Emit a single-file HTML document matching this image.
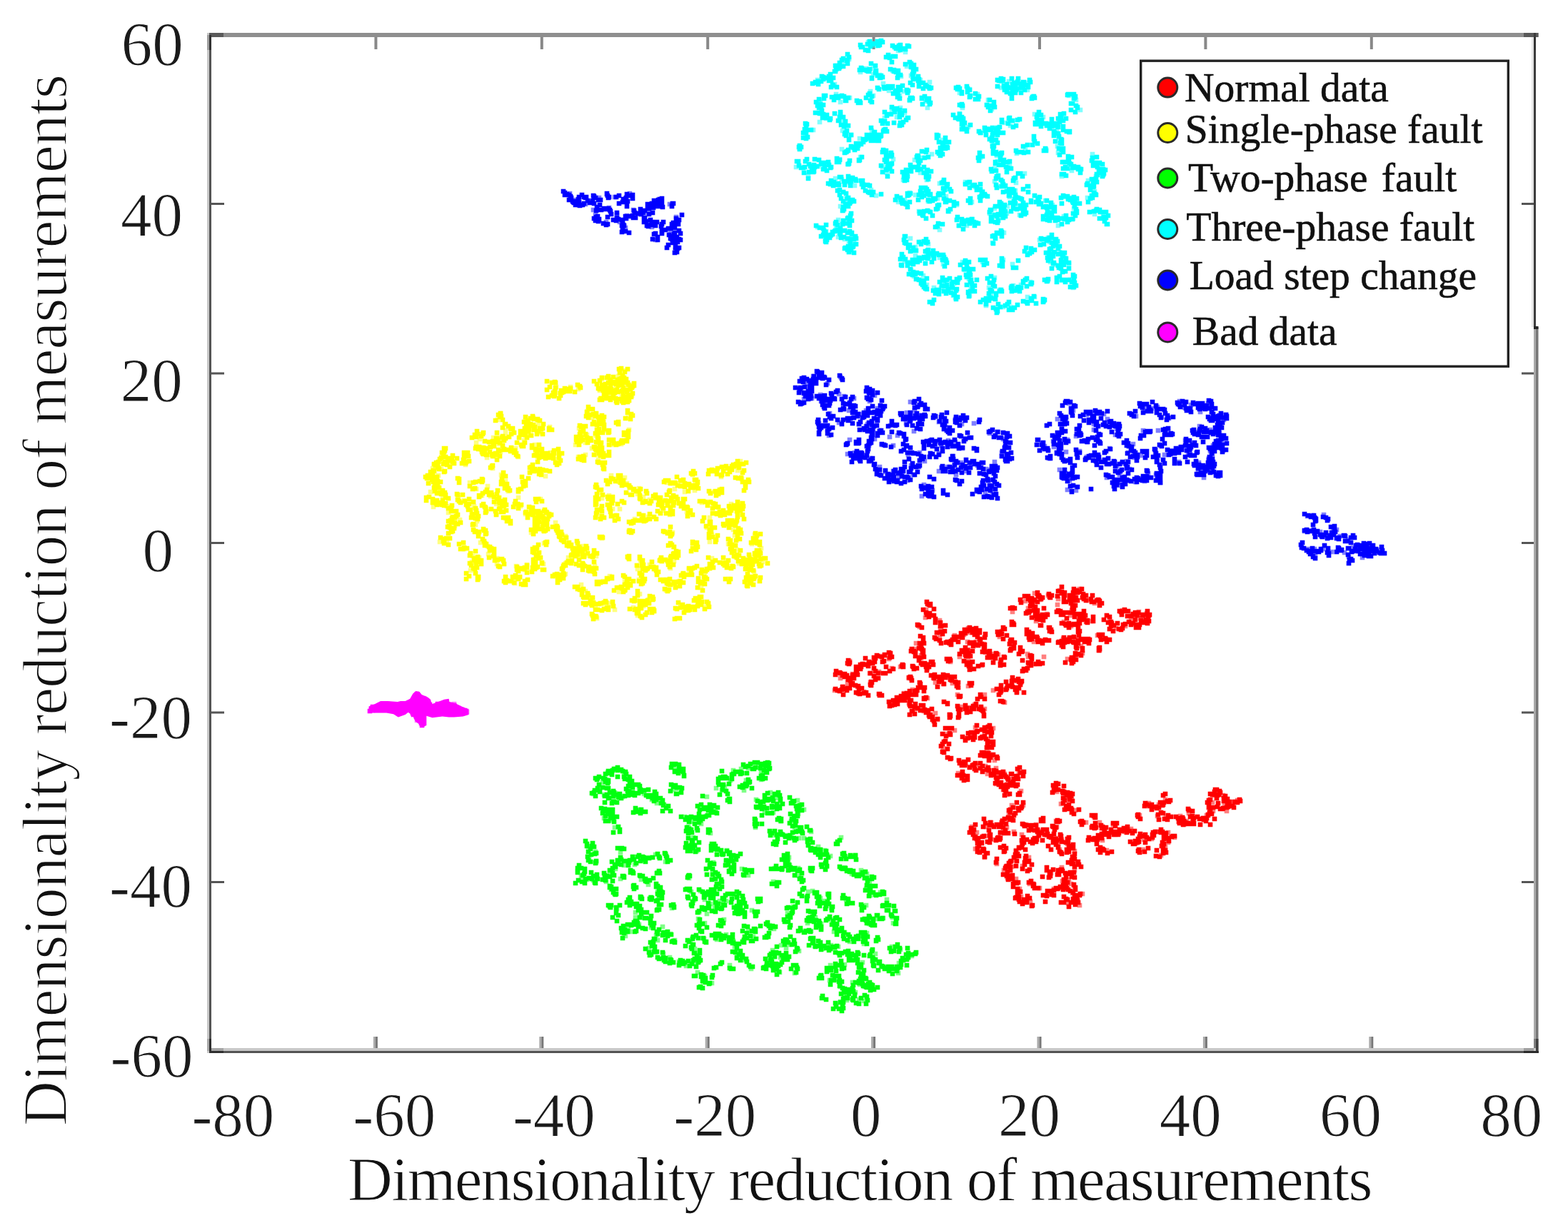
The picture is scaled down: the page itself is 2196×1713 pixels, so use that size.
<!DOCTYPE html>
<html><head><meta charset="utf-8"><title>t-SNE scatter</title>
<style>
html,body{margin:0;padding:0;background:#fff;width:2196px;height:1713px;overflow:hidden}
svg{display:block}
.t{font-family:"Liberation Serif","Times New Roman",serif;font-size:87px;fill:#1a1a1a;stroke:#fff;stroke-width:1.0px}
.al{font-family:"Liberation Serif","Times New Roman",serif;font-size:87px;fill:#111;stroke:#fff;stroke-width:1.0px}
.al2{font-family:"Liberation Serif","Times New Roman",serif;font-size:88px;fill:#111;stroke:#fff;stroke-width:1.7px}
.lg{font-family:"Liberation Serif","Times New Roman",serif;font-size:57.5px;fill:#111;stroke:#111;stroke-width:0.6px}
</style></head><body>
<svg width="2196" height="1713" viewBox="0 0 2196 1713">
<rect width="2196" height="1713" fill="#fff"/>
<rect x="290" y="46" width="3" height="1429" fill="#c8c8c8"/>
<rect x="293" y="46" width="3" height="1429" fill="#555"/>
<rect x="293" y="1468" width="1858" height="4" fill="#c8c8c8"/>
<rect x="293" y="1472" width="1862" height="3" fill="#535353"/>
<rect x="293" y="46" width="1862" height="6" fill="#8e8e8e"/>
<rect x="293" y="46" width="20" height="6" fill="#5a5a5a"/>
<rect x="2134" y="46" width="20" height="6" fill="#5a5a5a"/>
<rect x="2145" y="52" width="3" height="406" fill="#e5e5e5"/>
<rect x="2148" y="46" width="3" height="412" fill="#3c3c3c"/>
<rect x="2151" y="458" width="3.5" height="1017" fill="#777"/>
<rect x="2148" y="458" width="3" height="1010" fill="#aaa"/>
<rect x="2148" y="457" width="6.5" height="4" fill="#252525"/>
<rect x="293" y="1455" width="3" height="20" fill="#303030"/>
<rect x="290" y="1455" width="3" height="17" fill="#aaa"/>
<rect x="296" y="1468" width="17" height="4" fill="#a5a5a5"/>
<rect x="296" y="1472" width="17" height="3" fill="#2e2e2e"/>
<rect x="2134" y="1468" width="14" height="4" fill="#a0a0a0"/>
<rect x="2134" y="1472" width="21" height="3" fill="#2a2a2a"/>
<rect x="2148" y="1455" width="3" height="13" fill="#808080"/>
<rect x="2151" y="1455" width="3.5" height="17" fill="#404040"/>
<rect x="293" y="49" width="3" height="21" fill="#333"/>
<rect x="290" y="49" width="3" height="21" fill="#a0a0a0"/>
<rect x="2148" y="52" width="3" height="18" fill="#333"/>
<rect x="522.9" y="1452" width="3" height="16" fill="#aaa"/>
<rect x="525.9" y="1452" width="3" height="16" fill="#777"/>
<rect x="524.4" y="52" width="4" height="17" fill="#888"/>
<rect x="755.3" y="1452" width="3" height="16" fill="#aaa"/>
<rect x="758.3" y="1452" width="3" height="16" fill="#777"/>
<rect x="756.8" y="52" width="4" height="17" fill="#888"/>
<rect x="987.7" y="1452" width="3" height="16" fill="#aaa"/>
<rect x="990.7" y="1452" width="3" height="16" fill="#777"/>
<rect x="989.2" y="52" width="4" height="17" fill="#888"/>
<rect x="1220.1" y="1452" width="3" height="16" fill="#aaa"/>
<rect x="1223.1" y="1452" width="3" height="16" fill="#777"/>
<rect x="1221.6" y="52" width="4" height="17" fill="#888"/>
<rect x="1452.5" y="1452" width="3" height="16" fill="#aaa"/>
<rect x="1455.5" y="1452" width="3" height="16" fill="#777"/>
<rect x="1454.0" y="52" width="4" height="17" fill="#888"/>
<rect x="1684.9" y="1452" width="3" height="16" fill="#aaa"/>
<rect x="1687.9" y="1452" width="3" height="16" fill="#777"/>
<rect x="1686.4" y="52" width="4" height="17" fill="#888"/>
<rect x="1917.3" y="1452" width="3" height="16" fill="#aaa"/>
<rect x="1920.3" y="1452" width="3" height="16" fill="#777"/>
<rect x="1918.8" y="52" width="4" height="17" fill="#888"/>
<rect x="296" y="284.0" width="18" height="3" fill="#555"/>
<rect x="2131" y="284.0" width="17" height="3" fill="#555"/>
<rect x="296" y="521.5" width="18" height="3" fill="#555"/>
<rect x="2131" y="521.5" width="17" height="3" fill="#555"/>
<rect x="296" y="759.0" width="18" height="3" fill="#555"/>
<rect x="2131" y="759.0" width="17" height="3" fill="#555"/>
<rect x="296" y="996.5" width="18" height="3" fill="#555"/>
<rect x="2131" y="996.5" width="17" height="3" fill="#555"/>
<rect x="296" y="1234.0" width="18" height="3" fill="#555"/>
<rect x="2131" y="1234.0" width="17" height="3" fill="#555"/>

<path d="M1216 59h0M1226 64h0M1231 60h0M1258 71h0M1268 73h0M1248 79h0M1270 93h0M1279 94h0M1276 106h0M1189 83h0M1180 89h0M1172 92h0M1205 101h0M1213 96h0M1223 96h0M1223 104h0M1232 105h0M1250 99h0M1262 107h0M1145 112h0M1158 110h0M1169 118h0M1278 108h0M1289 112h0M1302 115h0M1237 117h0M1245 127h0M1254 128h0M1266 128h0M1260 134h0M1274 141h0M1296 142h0M1299 151h0M1149 140h0M1150 151h0M1171 132h0M1177 143h0M1190 137h0M1219 128h0M1223 134h0M1249 154h0M1261 151h0M1267 158h0M1256 164h0M1239 165h0M1148 171h0M1157 166h0M1177 160h0M1179 170h0M1180 183h0M1192 189h0M1139 182h0M1128 187h0M1120 208h0M1221 183h0M1229 189h0M1230 197h0M1216 193h0M1204 194h0M1199 207h0M1192 207h0M1179 209h0M1115 234h0M1125 235h0M1138 232h0M1146 233h0M1157 230h0M1155 234h0M1132 245h0M1176 223h0M1187 230h0M1205 220h0M1246 215h0M1251 223h0M1247 234h0M1242 242h0M1236 234h0M1170 250h0M1179 251h0M1190 256h0M1197 260h0M1209 258h0M1220 266h0M1227 274h0M1181 269h0M1187 282h0M1177 289h0M1181 295h0M1189 309h0M1145 318h0M1157 324h0M1156 335h0M1159 332h0M1174 332h0M1171 319h0M1174 308h0M1183 335h0M1193 334h0M1189 338h0M1189 353h0M1190 351h0M1197 342h0M1319 196h0M1326 204h0M1317 209h0M1305 216h0M1292 221h0M1281 224h0M1278 234h0M1269 241h0M1265 252h0M1289 242h0M1298 252h0M1274 270h0M1258 283h0M1267 280h0M1282 273h0M1297 270h0M1300 269h0M1300 282h0M1313 278h0M1325 275h0M1316 257h0M1322 261h0M1287 296h0M1301 296h0M1314 289h0M1329 296h0M1340 287h0M1316 322h0M1343 316h0M1354 316h0M1362 307h0M1352 255h0M1366 262h0M1376 268h0M1376 273h0M1361 283h0M1344 130h0M1358 125h0M1369 132h0M1348 151h0M1384 140h0M1389 153h0M1402 114h0M1413 114h0M1425 114h0M1436 116h0M1439 126h0M1428 124h0M1415 125h0M1402 123h0M1412 127h0M1447 135h0M1497 134h0M1507 140h0M1513 154h0M1344 159h0M1349 168h0M1356 178h0M1374 186h0M1383 180h0M1395 181h0M1398 180h0M1393 188h0M1390 201h0M1407 172h0M1415 176h0M1449 160h0M1461 164h0M1465 173h0M1471 173h0M1482 174h0M1487 162h0M1450 172h0M1480 182h0M1483 193h0M1481 205h0M1482 214h0M1497 185h0M1465 209h0M1424 215h0M1436 209h0M1373 221h0M1391 213h0M1396 218h0M1397 226h0M1393 236h0M1414 232h0M1490 227h0M1501 239h0M1512 236h0M1487 247h0M1530 216h0M1535 228h0M1540 238h0M1544 240h0M1535 247h0M1524 253h0M1435 243h0M1393 254h0M1400 261h0M1411 268h0M1422 267h0M1414 276h0M1422 287h0M1423 256h0M1386 299h0M1393 292h0M1407 289h0M1411 289h0M1410 299h0M1400 305h0M1389 303h0M1433 285h0M1435 291h0M1428 301h0M1453 280h0M1464 281h0M1474 287h0M1470 296h0M1473 303h0M1482 316h0M1490 303h0M1503 306h0M1504 292h0M1508 282h0M1500 277h0M1490 276h0M1533 268h0M1523 277h0M1533 300h0M1545 300h0M1548 306h0M1468 300h0M1390 340h0M1394 332h0M1406 326h0M1275 334h0M1282 346h0M1290 339h0M1300 342h0M1267 366h0M1275 367h0M1282 358h0M1297 360h0M1303 359h0M1316 361h0M1321 370h0M1298 356h0M1276 378h0M1280 387h0M1293 386h0M1298 399h0M1348 367h0M1351 378h0M1357 382h0M1357 391h0M1360 403h0M1358 414h0M1324 397h0M1336 397h0M1308 403h0M1318 403h0M1329 402h0M1335 414h0M1338 417h0M1376 367h0M1405 364h0M1418 370h0M1393 389h0M1385 403h0M1388 412h0M1385 415h0M1381 428h0M1405 430h0M1400 406h0M1419 400h0M1430 399h0M1443 395h0M1442 354h0M1456 336h0M1468 333h0M1470 339h0M1476 343h0M1484 353h0M1491 361h0M1497 370h0M1490 380h0M1478 371h0M1471 356h0M1471 367h0M1467 394h0M1487 393h0M1499 392h0M1504 395h0M1503 403h0M1415 430h0M1439 416h0M1449 416h0M1461 422h0" stroke="#00ffff" stroke-opacity="0.5" stroke-width="6.6" stroke-linecap="square" fill="none"/><path d="M1205 63h0M1206 66h0M1208 66h0M1212 70h0M1216 71h0M1215 62h0M1219 65h0M1218 58h0M1222 62h0M1224 61h0M1229 58h0M1230 64h0M1232 63h0M1234 57h0M1236 59h0M1229 61h0M1231 63h0M1250 64h0M1253 66h0M1255 68h0M1261 70h0M1259 64h0M1261 63h0M1265 68h0M1266 68h0M1268 69h0M1271 64h0M1273 65h0M1241 80h0M1244 77h0M1246 81h0M1251 79h0M1249 87h0M1254 79h0M1268 90h0M1274 87h0M1276 94h0M1276 89h0M1280 91h0M1280 95h0M1283 97h0M1280 100h0M1279 100h0M1279 103h0M1278 104h0M1286 107h0M1279 110h0M1280 110h0M1189 80h0M1187 76h0M1187 84h0M1186 85h0M1181 82h0M1187 89h0M1179 84h0M1176 88h0M1181 93h0M1176 90h0M1176 94h0M1175 96h0M1170 92h0M1171 97h0M1170 100h0M1169 100h0M1163 104h0M1204 98h0M1206 95h0M1207 96h0M1209 98h0M1214 99h0M1218 97h0M1213 98h0M1220 89h0M1216 100h0M1217 100h0M1226 92h0M1227 99h0M1227 100h0M1226 102h0M1229 106h0M1221 109h0M1221 110h0M1233 109h0M1236 108h0M1234 106h0M1232 109h0M1247 97h0M1252 100h0M1252 98h0M1258 104h0M1258 99h0M1255 101h0M1257 101h0M1261 105h0M1257 109h0M1138 117h0M1142 116h0M1142 115h0M1146 118h0M1146 114h0M1150 114h0M1151 107h0M1153 111h0M1153 108h0M1157 109h0M1161 110h0M1161 107h0M1167 109h0M1161 113h0M1164 113h0M1166 119h0M1167 120h0M1164 122h0M1172 122h0M1275 116h0M1279 111h0M1278 119h0M1287 111h0M1286 113h0M1287 117h0M1287 121h0M1293 116h0M1293 124h0M1296 119h0M1298 121h0M1301 122h0M1304 123h0M1302 124h0M1229 123h0M1231 125h0M1238 122h0M1239 124h0M1239 123h0M1244 123h0M1242 122h0M1244 121h0M1248 123h0M1251 131h0M1250 121h0M1255 127h0M1254 129h0M1258 122h0M1258 127h0M1261 126h0M1264 120h0M1270 126h0M1272 127h0M1271 130h0M1257 133h0M1257 136h0M1260 138h0M1258 134h0M1278 138h0M1277 137h0M1274 140h0M1275 137h0M1291 137h0M1291 138h0M1295 135h0M1292 146h0M1301 138h0M1298 140h0M1301 142h0M1303 144h0M1302 146h0M1156 134h0M1154 134h0M1154 138h0M1154 138h0M1147 139h0M1153 147h0M1143 143h0M1149 146h0M1145 148h0M1147 151h0M1150 151h0M1142 158h0M1151 155h0M1165 136h0M1168 140h0M1172 135h0M1171 135h0M1174 137h0M1177 135h0M1179 134h0M1182 135h0M1185 137h0M1184 141h0M1185 141h0M1188 137h0M1204 142h0M1202 142h0M1205 144h0M1200 141h0M1202 144h0M1218 131h0M1216 133h0M1213 137h0M1221 135h0M1219 141h0M1221 143h0M1239 157h0M1242 162h0M1245 160h0M1248 160h0M1249 150h0M1253 157h0M1252 152h0M1256 152h0M1256 153h0M1260 154h0M1260 158h0M1261 158h0M1263 161h0M1267 155h0M1272 165h0M1271 165h0M1269 168h0M1260 164h0M1260 162h0M1265 171h0M1263 175h0M1261 172h0M1260 176h0M1252 172h0M1239 170h0M1234 169h0M1243 173h0M1236 173h0M1148 159h0M1148 158h0M1152 165h0M1153 160h0M1153 163h0M1156 165h0M1158 161h0M1162 168h0M1163 166h0M1177 157h0M1169 159h0M1177 160h0M1176 164h0M1181 164h0M1174 169h0M1175 169h0M1184 170h0M1178 175h0M1183 175h0M1182 177h0M1188 176h0M1186 183h0M1184 186h0M1183 188h0M1185 187h0M1185 190h0M1192 189h0M1189 195h0M1189 196h0M1130 174h0M1128 173h0M1129 177h0M1136 182h0M1130 182h0M1127 181h0M1129 186h0M1125 186h0M1131 192h0M1129 194h0M1125 193h0M1119 206h0M1120 209h0M1120 204h0M1122 206h0M1214 189h0M1220 189h0M1220 179h0M1224 186h0M1225 185h0M1225 187h0M1224 191h0M1231 189h0M1233 191h0M1234 190h0M1231 197h0M1227 193h0M1225 196h0M1225 197h0M1223 192h0M1220 197h0M1220 193h0M1215 193h0M1213 195h0M1211 196h0M1209 195h0M1209 199h0M1206 202h0M1203 201h0M1202 204h0M1200 204h0M1201 208h0M1199 201h0M1197 210h0M1195 206h0M1196 207h0M1192 205h0M1188 211h0M1188 210h0M1186 212h0M1185 213h0M1183 214h0M1238 182h0M1239 183h0M1240 181h0M1242 184h0M1237 184h0M1116 226h0M1118 226h0M1119 232h0M1122 235h0M1125 235h0M1127 234h0M1128 226h0M1130 223h0M1133 230h0M1135 233h0M1141 223h0M1140 231h0M1141 234h0M1147 224h0M1144 233h0M1150 230h0M1152 228h0M1153 237h0M1154 228h0M1155 234h0M1160 227h0M1163 234h0M1161 231h0M1164 234h0M1163 235h0M1155 236h0M1158 239h0M1126 242h0M1137 236h0M1133 241h0M1140 240h0M1139 241h0M1132 250h0M1172 222h0M1176 224h0M1172 227h0M1175 227h0M1190 225h0M1189 229h0M1188 230h0M1190 225h0M1203 224h0M1207 220h0M1204 224h0M1203 225h0M1237 210h0M1236 213h0M1241 211h0M1241 214h0M1241 218h0M1248 214h0M1247 218h0M1249 217h0M1248 219h0M1245 219h0M1241 221h0M1242 225h0M1249 229h0M1248 230h0M1244 231h0M1243 234h0M1246 236h0M1242 237h0M1249 240h0M1241 238h0M1236 241h0M1243 247h0M1234 232h0M1239 224h0M1241 227h0M1160 257h0M1163 258h0M1164 253h0M1167 260h0M1168 255h0M1171 259h0M1175 259h0M1174 257h0M1176 248h0M1178 248h0M1183 259h0M1182 254h0M1186 254h0M1188 251h0M1188 247h0M1194 249h0M1192 254h0M1191 260h0M1198 251h0M1199 253h0M1206 253h0M1208 253h0M1208 254h0M1207 258h0M1209 259h0M1209 262h0M1212 267h0M1215 259h0M1218 260h0M1216 269h0M1218 270h0M1220 269h0M1223 269h0M1221 272h0M1221 273h0M1234 272h0M1173 267h0M1176 266h0M1176 273h0M1181 269h0M1185 271h0M1178 278h0M1188 277h0M1186 278h0M1181 282h0M1188 289h0M1190 285h0M1191 283h0M1194 280h0M1196 282h0M1184 286h0M1181 290h0M1182 290h0M1182 293h0M1180 295h0M1192 299h0M1191 302h0M1188 305h0M1187 306h0M1190 307h0M1193 309h0M1190 314h0M1186 313h0M1190 316h0M1143 316h0M1148 319h0M1151 319h0M1153 320h0M1157 315h0M1154 323h0M1156 325h0M1156 327h0M1157 329h0M1153 329h0M1153 329h0M1156 338h0M1150 331h0M1157 339h0M1157 334h0M1158 336h0M1162 333h0M1163 330h0M1164 329h0M1166 328h0M1166 325h0M1169 324h0M1170 323h0M1177 328h0M1177 324h0M1173 322h0M1177 320h0M1173 315h0M1170 313h0M1180 314h0M1171 311h0M1181 309h0M1176 326h0M1178 333h0M1183 323h0M1182 332h0M1187 326h0M1187 334h0M1190 324h0M1193 326h0M1193 328h0M1198 331h0M1196 335h0M1199 334h0M1192 335h0M1191 339h0M1199 342h0M1191 342h0M1194 346h0M1189 346h0M1188 345h0M1184 347h0M1184 348h0M1183 348h0M1187 350h0M1189 353h0M1192 350h0M1194 346h0M1196 354h0M1191 343h0M1195 345h0M1198 342h0M1312 189h0M1314 190h0M1312 193h0M1315 199h0M1324 193h0M1320 201h0M1321 200h0M1324 199h0M1329 199h0M1326 206h0M1327 207h0M1321 205h0M1324 208h0M1317 207h0M1318 211h0M1313 213h0M1320 216h0M1315 215h0M1317 218h0M1298 210h0M1297 213h0M1300 220h0M1291 212h0M1295 221h0M1285 218h0M1286 219h0M1289 225h0M1284 220h0M1286 225h0M1287 228h0M1286 234h0M1285 234h0M1285 238h0M1279 234h0M1275 231h0M1276 236h0M1276 240h0M1269 238h0M1271 238h0M1270 243h0M1264 241h0M1267 247h0M1266 246h0M1266 248h0M1271 247h0M1267 253h0M1270 252h0M1294 234h0M1290 237h0M1298 238h0M1299 238h0M1294 242h0M1298 243h0M1297 248h0M1300 251h0M1301 247h0M1304 240h0M1273 273h0M1271 274h0M1271 271h0M1275 271h0M1256 275h0M1254 280h0M1261 277h0M1262 280h0M1264 281h0M1263 283h0M1266 284h0M1264 285h0M1269 286h0M1270 285h0M1271 290h0M1274 283h0M1286 280h0M1291 276h0M1287 273h0M1291 273h0M1291 270h0M1289 268h0M1290 263h0M1297 267h0M1296 263h0M1298 265h0M1300 268h0M1294 274h0M1299 272h0M1303 272h0M1302 273h0M1300 280h0M1302 282h0M1306 281h0M1307 278h0M1310 278h0M1309 279h0M1314 273h0M1316 273h0M1315 271h0M1320 271h0M1322 278h0M1325 280h0M1324 283h0M1325 283h0M1330 281h0M1319 256h0M1321 255h0M1322 256h0M1322 252h0M1327 258h0M1326 261h0M1321 264h0M1323 266h0M1330 265h0M1332 268h0M1321 271h0M1288 297h0M1288 299h0M1294 296h0M1292 301h0M1299 295h0M1293 302h0M1303 297h0M1297 306h0M1306 302h0M1315 287h0M1313 288h0M1311 293h0M1313 292h0M1328 295h0M1328 295h0M1328 296h0M1331 293h0M1337 285h0M1340 285h0M1336 288h0M1336 283h0M1320 314h0M1314 313h0M1313 317h0M1310 318h0M1341 304h0M1347 307h0M1340 308h0M1348 309h0M1349 311h0M1343 316h0M1349 321h0M1347 313h0M1350 314h0M1349 313h0M1351 309h0M1354 310h0M1356 308h0M1358 313h0M1361 307h0M1364 311h0M1367 312h0M1365 316h0M1370 313h0M1352 258h0M1355 256h0M1358 255h0M1358 263h0M1362 260h0M1365 259h0M1368 262h0M1368 266h0M1373 258h0M1373 265h0M1372 266h0M1376 269h0M1375 270h0M1379 272h0M1380 274h0M1383 275h0M1374 275h0M1372 276h0M1373 281h0M1359 278h0M1356 281h0M1359 284h0M1339 123h0M1342 122h0M1341 125h0M1344 124h0M1347 129h0M1347 131h0M1354 121h0M1355 124h0M1355 129h0M1358 126h0M1358 136h0M1359 134h0M1359 134h0M1366 131h0M1370 136h0M1371 135h0M1366 139h0M1370 139h0M1347 146h0M1348 148h0M1344 147h0M1347 148h0M1392 143h0M1386 140h0M1392 149h0M1382 147h0M1387 148h0M1384 150h0M1393 150h0M1387 155h0M1397 112h0M1397 121h0M1399 113h0M1402 110h0M1404 113h0M1405 111h0M1406 121h0M1410 119h0M1410 118h0M1417 110h0M1418 118h0M1420 116h0M1422 119h0M1425 115h0M1428 117h0M1426 110h0M1433 121h0M1433 115h0M1434 115h0M1442 112h0M1443 115h0M1436 119h0M1440 119h0M1440 122h0M1433 117h0M1435 126h0M1430 122h0M1430 123h0M1430 130h0M1424 124h0M1423 126h0M1422 130h0M1418 128h0M1418 128h0M1419 127h0M1410 129h0M1415 131h0M1417 134h0M1417 138h0M1406 120h0M1407 126h0M1408 123h0M1411 122h0M1413 123h0M1416 123h0M1419 123h0M1421 118h0M1421 121h0M1445 138h0M1448 135h0M1446 136h0M1449 137h0M1495 133h0M1496 132h0M1501 132h0M1504 132h0M1505 137h0M1506 135h0M1504 138h0M1500 145h0M1502 145h0M1507 148h0M1509 151h0M1509 150h0M1500 154h0M1506 157h0M1335 161h0M1338 165h0M1344 160h0M1342 166h0M1343 167h0M1347 164h0M1349 166h0M1347 168h0M1348 173h0M1347 174h0M1351 172h0M1349 175h0M1359 175h0M1353 181h0M1354 182h0M1347 181h0M1354 184h0M1371 184h0M1373 186h0M1379 179h0M1380 183h0M1381 189h0M1385 181h0M1386 182h0M1386 181h0M1388 182h0M1390 179h0M1396 184h0M1395 184h0M1397 179h0M1400 178h0M1401 186h0M1405 186h0M1396 181h0M1398 185h0M1395 185h0M1397 189h0M1391 186h0M1390 189h0M1389 193h0M1386 195h0M1395 196h0M1389 197h0M1397 200h0M1392 204h0M1390 205h0M1403 168h0M1403 171h0M1414 165h0M1413 166h0M1412 173h0M1415 169h0M1418 169h0M1419 178h0M1419 178h0M1423 176h0M1425 168h0M1428 167h0M1455 157h0M1453 161h0M1452 164h0M1458 161h0M1453 168h0M1459 168h0M1457 174h0M1459 173h0M1458 176h0M1458 177h0M1466 176h0M1470 180h0M1465 173h0M1467 174h0M1473 177h0M1473 173h0M1473 167h0M1477 176h0M1478 174h0M1478 173h0M1484 171h0M1482 166h0M1486 165h0M1489 169h0M1485 160h0M1493 166h0M1490 159h0M1450 174h0M1450 172h0M1451 174h0M1450 173h0M1481 174h0M1489 177h0M1482 178h0M1489 182h0M1476 184h0M1477 186h0M1482 187h0M1476 190h0M1483 191h0M1487 196h0M1486 195h0M1478 198h0M1485 200h0M1487 201h0M1483 208h0M1489 208h0M1488 208h0M1487 210h0M1489 213h0M1484 217h0M1498 184h0M1494 184h0M1498 185h0M1495 184h0M1446 203h0M1448 195h0M1449 198h0M1448 191h0M1453 201h0M1462 211h0M1464 208h0M1465 211h0M1465 211h0M1423 211h0M1425 213h0M1425 213h0M1428 213h0M1431 213h0M1434 214h0M1433 205h0M1440 213h0M1439 203h0M1371 225h0M1370 221h0M1372 218h0M1376 219h0M1372 214h0M1392 205h0M1391 209h0M1391 215h0M1395 213h0M1396 216h0M1402 215h0M1403 214h0M1402 216h0M1401 220h0M1401 224h0M1406 224h0M1405 229h0M1394 227h0M1403 231h0M1394 229h0M1399 231h0M1395 239h0M1389 240h0M1388 237h0M1411 227h0M1414 226h0M1409 234h0M1411 235h0M1416 236h0M1410 241h0M1489 236h0M1488 227h0M1492 227h0M1492 234h0M1498 229h0M1495 236h0M1500 230h0M1504 233h0M1502 235h0M1510 234h0M1508 235h0M1510 237h0M1514 237h0M1513 242h0M1487 244h0M1490 244h0M1493 246h0M1496 222h0M1501 220h0M1497 220h0M1497 223h0M1496 219h0M1530 221h0M1529 225h0M1536 220h0M1534 228h0M1531 228h0M1531 232h0M1540 228h0M1544 230h0M1537 234h0M1539 237h0M1547 238h0M1545 237h0M1548 238h0M1546 243h0M1545 239h0M1545 245h0M1544 247h0M1539 242h0M1537 245h0M1536 244h0M1535 250h0M1536 255h0M1535 255h0M1531 255h0M1529 251h0M1527 260h0M1523 257h0M1522 259h0M1426 243h0M1429 243h0M1432 247h0M1398 246h0M1396 247h0M1397 248h0M1395 250h0M1402 252h0M1395 259h0M1404 254h0M1396 263h0M1405 258h0M1403 261h0M1406 261h0M1408 260h0M1405 269h0M1410 268h0M1413 265h0M1413 269h0M1413 274h0M1418 265h0M1420 267h0M1422 273h0M1416 270h0M1423 276h0M1414 274h0M1421 279h0M1415 284h0M1420 282h0M1419 287h0M1422 285h0M1419 290h0M1419 292h0M1424 293h0M1419 253h0M1420 250h0M1422 249h0M1433 265h0M1439 261h0M1440 261h0M1440 269h0M1389 306h0M1386 297h0M1393 301h0M1387 294h0M1388 294h0M1398 300h0M1402 295h0M1394 289h0M1399 289h0M1402 291h0M1402 287h0M1400 283h0M1407 287h0M1402 285h0M1403 288h0M1402 289h0M1406 293h0M1405 294h0M1405 295h0M1416 296h0M1408 296h0M1408 303h0M1406 301h0M1401 301h0M1405 305h0M1400 301h0M1396 303h0M1398 309h0M1397 312h0M1394 311h0M1388 304h0M1388 310h0M1420 285h0M1426 277h0M1429 278h0M1431 279h0M1433 284h0M1429 288h0M1437 287h0M1429 292h0M1435 289h0M1434 290h0M1437 298h0M1435 295h0M1433 298h0M1435 300h0M1430 302h0M1444 281h0M1444 283h0M1449 274h0M1451 283h0M1454 278h0M1456 276h0M1455 283h0M1455 286h0M1458 285h0M1461 290h0M1466 281h0M1466 291h0M1472 284h0M1465 289h0M1471 290h0M1470 290h0M1477 290h0M1476 293h0M1477 296h0M1471 298h0M1473 302h0M1474 305h0M1475 305h0M1468 305h0M1470 309h0M1477 305h0M1478 306h0M1481 305h0M1478 309h0M1481 308h0M1482 307h0M1487 314h0M1487 306h0M1491 307h0M1495 311h0M1497 308h0M1493 302h0M1499 307h0M1502 307h0M1506 302h0M1503 299h0M1508 298h0M1508 296h0M1507 293h0M1505 289h0M1505 288h0M1503 284h0M1510 285h0M1512 285h0M1508 278h0M1505 282h0M1502 282h0M1504 276h0M1499 280h0M1499 278h0M1495 275h0M1496 279h0M1491 275h0M1489 274h0M1486 277h0M1487 285h0M1532 261h0M1531 262h0M1527 266h0M1532 270h0M1534 272h0M1535 273h0M1529 274h0M1530 277h0M1527 278h0M1524 283h0M1526 297h0M1532 296h0M1536 293h0M1535 295h0M1540 294h0M1541 297h0M1543 297h0M1540 306h0M1549 297h0M1546 304h0M1547 307h0M1552 302h0M1549 305h0M1546 306h0M1547 310h0M1551 314h0M1550 314h0M1467 297h0M1466 301h0M1461 303h0M1461 307h0M1467 308h0M1470 307h0M1390 331h0M1391 341h0M1394 334h0M1393 331h0M1392 330h0M1403 331h0M1398 327h0M1396 326h0M1403 325h0M1402 323h0M1267 331h0M1268 331h0M1266 336h0M1267 340h0M1269 339h0M1269 341h0M1269 341h0M1274 343h0M1274 344h0M1272 347h0M1275 352h0M1281 351h0M1279 347h0M1283 351h0M1287 339h0M1290 342h0M1294 338h0M1297 335h0M1297 340h0M1299 339h0M1263 356h0M1263 357h0M1261 363h0M1265 360h0M1268 363h0M1262 371h0M1263 372h0M1271 372h0M1271 368h0M1273 369h0M1279 370h0M1280 367h0M1278 364h0M1282 367h0M1281 364h0M1287 361h0M1285 367h0M1288 365h0M1291 362h0M1295 361h0M1296 369h0M1297 360h0M1299 362h0M1300 360h0M1305 367h0M1308 362h0M1307 357h0M1308 359h0M1312 355h0M1315 357h0M1321 357h0M1320 364h0M1322 360h0M1324 363h0M1325 365h0M1326 368h0M1323 373h0M1296 352h0M1294 360h0M1299 351h0M1300 350h0M1300 357h0M1304 355h0M1307 351h0M1275 377h0M1273 384h0M1279 381h0M1278 385h0M1283 382h0M1282 384h0M1284 382h0M1283 391h0M1284 391h0M1290 383h0M1287 392h0M1292 393h0M1298 390h0M1290 397h0M1294 396h0M1292 399h0M1296 402h0M1296 404h0M1298 405h0M1294 402h0M1345 371h0M1351 368h0M1352 365h0M1350 377h0M1357 367h0M1354 372h0M1355 376h0M1359 377h0M1358 379h0M1363 377h0M1357 381h0M1359 385h0M1356 387h0M1353 385h0M1354 388h0M1368 392h0M1360 392h0M1359 395h0M1361 397h0M1365 400h0M1354 399h0M1362 402h0M1365 408h0M1359 408h0M1356 409h0M1356 410h0M1357 415h0M1316 395h0M1319 400h0M1320 389h0M1322 393h0M1326 399h0M1326 392h0M1330 390h0M1333 397h0M1333 399h0M1335 395h0M1340 391h0M1341 396h0M1342 391h0M1344 389h0M1307 407h0M1310 411h0M1312 406h0M1315 412h0M1315 406h0M1322 408h0M1325 411h0M1323 401h0M1326 408h0M1328 405h0M1328 407h0M1334 403h0M1332 410h0M1340 405h0M1339 407h0M1336 413h0M1337 413h0M1341 416h0M1336 412h0M1339 419h0M1302 423h0M1304 423h0M1306 425h0M1308 420h0M1378 371h0M1373 364h0M1382 369h0M1380 364h0M1378 364h0M1403 362h0M1404 367h0M1403 368h0M1400 372h0M1403 372h0M1404 373h0M1419 375h0M1423 375h0M1426 365h0M1388 387h0M1383 390h0M1392 392h0M1386 396h0M1391 396h0M1391 398h0M1391 399h0M1393 401h0M1387 406h0M1389 408h0M1385 411h0M1395 411h0M1395 413h0M1394 419h0M1391 418h0M1387 417h0M1387 418h0M1381 418h0M1385 421h0M1381 422h0M1377 420h0M1381 426h0M1373 423h0M1398 426h0M1391 431h0M1401 430h0M1395 433h0M1397 436h0M1396 438h0M1402 408h0M1403 408h0M1402 406h0M1400 408h0M1417 408h0M1416 403h0M1417 401h0M1421 407h0M1424 404h0M1426 402h0M1427 406h0M1428 408h0M1430 403h0M1433 394h0M1433 396h0M1438 401h0M1436 392h0M1438 390h0M1444 398h0M1445 396h0M1435 352h0M1437 347h0M1439 357h0M1442 355h0M1444 348h0M1445 353h0M1449 350h0M1457 343h0M1462 342h0M1458 334h0M1460 335h0M1461 335h0M1466 337h0M1467 335h0M1470 333h0M1473 329h0M1468 336h0M1473 333h0M1473 340h0M1479 335h0M1478 337h0M1481 338h0M1479 343h0M1475 345h0M1484 345h0M1482 348h0M1477 353h0M1476 353h0M1482 356h0M1487 354h0M1491 354h0M1488 358h0M1489 359h0M1486 364h0M1493 362h0M1491 367h0M1489 369h0M1497 368h0M1497 376h0M1490 371h0M1486 370h0M1492 380h0M1491 380h0M1488 381h0M1486 376h0M1483 374h0M1483 375h0M1482 372h0M1473 376h0M1472 348h0M1470 349h0M1465 354h0M1469 355h0M1471 356h0M1467 361h0M1475 359h0M1472 362h0M1468 365h0M1476 368h0M1475 369h0M1467 393h0M1463 392h0M1468 391h0M1466 394h0M1480 395h0M1480 389h0M1487 392h0M1484 387h0M1490 392h0M1492 395h0M1493 392h0M1496 392h0M1497 392h0M1503 385h0M1504 388h0M1503 386h0M1505 387h0M1502 395h0M1504 392h0M1505 396h0M1501 395h0M1507 400h0M1504 402h0M1499 402h0M1408 428h0M1413 434h0M1411 426h0M1413 423h0M1416 432h0M1418 434h0M1421 431h0M1425 427h0M1433 422h0M1439 425h0M1438 423h0M1444 418h0M1445 421h0M1448 415h0M1451 425h0M1461 419h0M1461 423h0M1462 421h0M1463 420h0" stroke="#00ffff" stroke-width="6.6" stroke-linecap="square" fill="none"/>

<path d="M779 542h0M776 554h0M779 550h0M788 548h0M799 542h0M810 545h0M843 531h0M854 533h0M863 537h0M876 532h0M882 539h0M883 543h0M885 554h0M877 563h0M871 553h0M860 551h0M848 554h0M840 547h0M851 549h0M863 544h0M874 549h0M875 519h0M866 527h0M860 536h0M841 558h0M880 585h0M823 576h0M829 585h0M837 593h0M847 603h0M834 610h0M837 620h0M836 633h0M838 644h0M846 652h0M835 582h0M844 591h0M811 600h0M822 609h0M813 612h0M806 623h0M820 620h0M829 628h0M840 628h0M836 637h0M857 623h0M870 622h0M878 615h0M881 602h0M866 594h0M810 640h0M820 637h0M701 579h0M697 588h0M708 603h0M708 608h0M736 589h0M747 585h0M754 594h0M757 606h0M743 603h0M736 610h0M735 602h0M747 598h0M770 598h0M672 615h0M691 613h0M696 612h0M699 622h0M701 633h0M692 639h0M682 641h0M674 630h0M667 620h0M686 626h0M722 628h0M726 640h0M734 617h0M650 644h0M652 651h0M608 651h0M617 645h0M626 642h0M630 644h0M630 651h0M618 657h0M606 656h0M601 669h0M614 666h0M611 679h0M615 686h0M620 695h0M606 671h0M603 689h0M607 710h0M611 703h0M626 709h0M628 718h0M635 728h0M637 737h0M644 728h0M642 697h0M650 701h0M664 709h0M661 720h0M668 730h0M658 676h0M667 685h0M690 656h0M702 665h0M708 674h0M712 688h0M683 681h0M687 695h0M675 694h0M695 706h0M704 706h0M705 711h0M695 720h0M681 713h0M708 726h0M726 697h0M729 709h0M734 676h0M726 689h0M749 623h0M755 629h0M753 640h0M762 637h0M771 634h0M775 634h0M780 643h0M752 635h0M760 639h0M748 659h0M759 660h0M764 667h0M757 699h0M736 720h0M747 721h0M756 720h0M767 723h0M763 728h0M761 735h0M753 733h0M744 746h0M748 720h0M778 732h0M781 746h0M792 751h0M796 761h0M805 770h0M816 765h0M761 743h0M628 738h0M616 759h0M626 759h0M650 769h0M666 735h0M670 747h0M673 760h0M683 765h0M684 776h0M696 782h0M696 790h0M662 779h0M671 781h0M661 787h0M659 799h0M670 808h0M708 814h0M721 817h0M728 809h0M723 793h0M735 798h0M738 791h0M748 793h0M761 790h0M751 768h0M750 775h0M749 783h0M762 761h0M778 807h0M783 810h0M792 804h0M792 789h0M796 781h0M808 777h0M812 776h0M822 778h0M835 779h0M814 789h0M825 798h0M833 793h0M843 754h0M814 819h0M820 828h0M829 838h0M834 850h0M843 846h0M853 845h0M861 854h0M827 844h0M836 866h0M845 814h0M854 807h0M867 829h0M876 826h0M879 816h0M875 815h0M879 780h0M840 690h0M843 698h0M842 712h0M840 723h0M856 666h0M853 694h0M856 704h0M858 713h0M861 722h0M867 675h0M875 669h0M878 677h0M882 682h0M893 692h0M868 713h0M889 727h0M899 722h0M908 724h0M895 684h0M901 696h0M910 700h0M919 698h0M930 704h0M928 715h0M934 676h0M942 677h0M954 678h0M959 689h0M973 687h0M945 685h0M941 698h0M939 709h0M938 721h0M954 709h0M962 717h0M970 665h0M974 676h0M999 659h0M1010 668h0M1014 655h0M1027 654h0M1037 646h0M1033 659h0M1039 671h0M1044 678h0M1000 689h0M1007 689h0M983 704h0M995 704h0M1006 711h0M1009 722h0M1020 718h0M1024 706h0M1037 705h0M1034 714h0M1033 722h0M994 725h0M990 739h0M993 740h0M1023 734h0M1027 742h0M1029 750h0M997 749h0M994 759h0M942 746h0M881 743h0M943 766h0M947 775h0M944 786h0M939 796h0M975 766h0M926 786h0M897 785h0M893 797h0M899 802h0M895 812h0M910 791h0M918 797h0M930 812h0M933 827h0M938 816h0M951 814h0M956 804h0M965 798h0M997 782h0M993 796h0M987 802h0M986 813h0M982 823h0M1014 789h0M1023 793h0M1020 762h0M1032 770h0M1030 780h0M1035 789h0M1048 789h0M1056 787h0M1068 787h0M1057 749h0M1053 762h0M1066 768h0M1059 774h0M1050 780h0M1047 791h0M1056 801h0M1051 814h0M1050 812h0M1057 808h0M1021 811h0M892 841h0M901 849h0M908 840h0M887 851h0M893 862h0M916 856h0M896 832h0M955 850h0M964 853h0M972 851h0M977 843h0M979 842h0M988 850h0" stroke="#ffff00" stroke-opacity="0.5" stroke-width="6.6" stroke-linecap="square" fill="none"/><path d="M766 534h0M777 535h0M773 536h0M778 536h0M770 542h0M778 543h0M766 546h0M777 548h0M775 550h0M775 550h0M768 556h0M773 554h0M776 555h0M777 553h0M783 558h0M785 554h0M785 551h0M786 547h0M787 550h0M789 549h0M791 544h0M794 545h0M794 548h0M798 548h0M799 544h0M805 549h0M813 543h0M809 539h0M813 543h0M812 541h0M832 534h0M840 545h0M836 538h0M843 539h0M840 533h0M843 529h0M848 538h0M852 536h0M850 529h0M852 527h0M855 532h0M855 539h0M858 535h0M859 528h0M861 537h0M864 535h0M866 540h0M868 531h0M869 537h0M871 539h0M875 533h0M877 531h0M877 536h0M879 536h0M880 539h0M884 541h0M888 537h0M888 540h0M886 541h0M885 543h0M883 545h0M879 546h0M886 551h0M884 553h0M880 553h0M884 556h0M878 558h0M879 559h0M879 563h0M881 561h0M879 556h0M877 561h0M873 564h0M873 558h0M871 562h0M868 559h0M864 564h0M863 562h0M862 558h0M859 557h0M859 554h0M855 560h0M855 557h0M854 550h0M849 558h0M849 553h0M846 553h0M847 550h0M845 547h0M845 544h0M838 544h0M844 542h0M846 551h0M848 543h0M851 548h0M852 544h0M856 545h0M857 548h0M861 550h0M860 547h0M864 546h0M865 549h0M873 543h0M871 548h0M872 547h0M878 549h0M873 554h0M874 556h0M879 517h0M870 516h0M875 521h0M867 517h0M872 526h0M868 522h0M874 529h0M870 530h0M865 532h0M869 535h0M866 535h0M868 537h0M863 538h0M842 558h0M840 560h0M842 558h0M843 560h0M879 575h0M879 578h0M884 580h0M884 581h0M886 582h0M876 586h0M883 587h0M824 570h0M825 573h0M830 573h0M822 577h0M823 581h0M821 583h0M827 581h0M824 585h0M834 582h0M834 583h0M832 591h0M830 594h0M839 587h0M836 595h0M839 593h0M840 594h0M836 602h0M846 601h0M839 601h0M844 606h0M840 606h0M837 607h0M834 607h0M837 612h0M838 616h0M838 614h0M835 619h0M842 620h0M841 624h0M840 624h0M843 627h0M839 630h0M835 629h0M839 635h0M845 635h0M843 638h0M841 638h0M845 640h0M837 647h0M839 648h0M843 648h0M847 648h0M844 651h0M845 656h0M845 655h0M846 657h0M831 580h0M835 579h0M838 584h0M843 582h0M846 584h0M843 587h0M844 588h0M840 592h0M845 591h0M846 595h0M846 596h0M812 596h0M814 598h0M818 597h0M817 599h0M820 597h0M820 609h0M817 604h0M820 608h0M813 605h0M813 609h0M812 608h0M813 616h0M807 612h0M807 616h0M808 619h0M811 623h0M827 614h0M828 617h0M823 618h0M822 613h0M823 620h0M816 616h0M814 613h0M814 613h0M813 618h0M808 617h0M832 626h0M833 626h0M837 619h0M834 629h0M841 621h0M840 626h0M843 633h0M837 628h0M838 631h0M835 630h0M832 637h0M853 616h0M857 617h0M853 623h0M859 616h0M860 621h0M863 623h0M864 622h0M865 622h0M867 621h0M870 619h0M872 620h0M871 617h0M874 617h0M878 618h0M874 606h0M874 609h0M880 612h0M880 604h0M880 606h0M852 606h0M853 603h0M853 605h0M852 604h0M852 605h0M863 592h0M866 591h0M866 594h0M866 592h0M810 643h0M812 640h0M815 644h0M818 645h0M817 639h0M818 641h0M853 633h0M853 634h0M853 637h0M851 638h0M853 638h0M701 579h0M698 581h0M700 584h0M702 583h0M704 588h0M694 589h0M707 594h0M708 594h0M704 599h0M712 597h0M715 600h0M716 601h0M718 600h0M720 606h0M716 608h0M713 612h0M708 614h0M734 591h0M737 594h0M734 591h0M736 584h0M739 589h0M740 593h0M743 586h0M746 583h0M748 587h0M753 587h0M753 588h0M749 598h0M756 589h0M761 594h0M756 600h0M760 600h0M758 601h0M760 608h0M754 604h0M753 604h0M752 606h0M752 608h0M748 602h0M744 610h0M743 610h0M741 601h0M738 613h0M736 608h0M735 604h0M732 609h0M729 604h0M729 607h0M727 613h0M735 600h0M740 604h0M739 595h0M743 594h0M743 596h0M747 595h0M769 602h0M769 600h0M770 602h0M773 602h0M661 613h0M665 609h0M667 612h0M668 604h0M669 608h0M674 611h0M677 606h0M676 608h0M690 619h0M690 618h0M695 614h0M697 616h0M696 614h0M696 606h0M704 611h0M703 613h0M695 619h0M697 618h0M706 617h0M700 620h0M704 624h0M706 629h0M705 630h0M698 630h0M699 632h0M696 635h0M694 637h0M700 639h0M696 644h0M694 635h0M691 636h0M690 639h0M689 637h0M686 633h0M682 637h0M681 637h0M677 636h0M679 632h0M676 635h0M675 633h0M677 627h0M671 626h0M670 629h0M667 626h0M666 628h0M679 618h0M679 631h0M682 628h0M685 619h0M687 626h0M691 620h0M692 625h0M710 630h0M716 627h0M715 632h0M721 631h0M720 634h0M723 637h0M723 635h0M725 639h0M724 620h0M730 623h0M733 625h0M731 625h0M735 620h0M650 634h0M655 634h0M650 640h0M656 639h0M651 639h0M657 646h0M649 644h0M653 647h0M652 649h0M647 649h0M622 628h0M619 634h0M624 628h0M623 631h0M622 633h0M608 650h0M612 649h0M611 648h0M614 647h0M616 643h0M618 641h0M621 650h0M621 638h0M624 648h0M624 640h0M630 642h0M631 644h0M634 638h0M640 642h0M633 642h0M634 647h0M628 645h0M636 649h0M626 649h0M630 654h0M626 651h0M623 647h0M623 650h0M623 660h0M622 661h0M615 657h0M614 655h0M613 654h0M613 651h0M610 652h0M608 660h0M603 661h0M596 668h0M598 670h0M599 666h0M602 669h0M605 667h0M604 666h0M607 659h0M606 666h0M612 668h0M609 671h0M605 672h0M611 674h0M613 674h0M617 675h0M609 681h0M615 683h0M613 682h0M609 688h0M612 691h0M620 687h0M616 690h0M618 692h0M623 690h0M624 697h0M620 701h0M628 698h0M624 693h0M600 677h0M607 675h0M609 676h0M611 676h0M613 678h0M608 683h0M597 697h0M601 696h0M597 698h0M597 701h0M606 699h0M606 704h0M612 707h0M611 705h0M612 701h0M617 705h0M614 704h0M614 706h0M624 705h0M619 707h0M622 708h0M633 708h0M628 712h0M632 711h0M629 712h0M634 716h0M632 716h0M639 716h0M641 721h0M639 723h0M634 724h0M633 726h0M637 732h0M628 730h0M632 732h0M631 729h0M633 732h0M639 734h0M637 725h0M641 734h0M645 732h0M641 670h0M643 671h0M643 676h0M640 692h0M641 693h0M641 700h0M648 693h0M643 702h0M645 704h0M651 702h0M657 699h0M653 707h0M657 706h0M663 703h0M655 709h0M656 714h0M657 714h0M659 714h0M666 712h0M667 715h0M662 720h0M662 722h0M669 725h0M669 727h0M666 726h0M660 725h0M667 726h0M661 721h0M670 723h0M668 719h0M658 681h0M663 676h0M666 675h0M662 685h0M665 684h0M675 675h0M672 674h0M675 671h0M676 672h0M676 673h0M689 653h0M687 655h0M689 654h0M690 652h0M705 662h0M704 667h0M708 667h0M703 671h0M704 676h0M702 675h0M707 678h0M710 678h0M702 678h0M712 684h0M712 685h0M707 684h0M709 684h0M711 686h0M712 684h0M714 687h0M680 689h0M682 686h0M685 690h0M685 693h0M688 690h0M689 693h0M692 696h0M697 687h0M696 692h0M699 697h0M676 691h0M673 694h0M671 696h0M671 694h0M692 703h0M696 699h0M699 703h0M700 705h0M703 709h0M704 702h0M707 700h0M707 703h0M709 707h0M706 708h0M705 709h0M700 712h0M699 713h0M705 717h0M702 717h0M694 716h0M695 721h0M677 706h0M675 708h0M679 710h0M680 711h0M688 713h0M681 716h0M680 718h0M709 715h0M705 725h0M712 725h0M711 725h0M715 730h0M715 733h0M710 730h0M722 702h0M721 706h0M725 706h0M719 710h0M730 707h0M726 712h0M731 668h0M740 670h0M732 675h0M736 674h0M736 680h0M733 681h0M736 680h0M729 685h0M730 685h0M726 688h0M726 686h0M745 627h0M745 624h0M750 630h0M751 629h0M754 630h0M755 623h0M757 631h0M759 629h0M754 630h0M759 633h0M752 632h0M758 638h0M750 637h0M755 641h0M757 640h0M758 640h0M758 640h0M762 635h0M764 642h0M766 638h0M767 635h0M769 641h0M771 638h0M775 637h0M775 634h0M776 631h0M783 635h0M782 629h0M776 635h0M787 635h0M775 640h0M783 641h0M775 642h0M785 645h0M778 648h0M783 649h0M780 651h0M748 638h0M753 638h0M753 647h0M755 640h0M760 640h0M761 639h0M746 651h0M742 655h0M744 654h0M745 657h0M742 662h0M748 660h0M749 657h0M755 664h0M756 663h0M756 657h0M754 659h0M760 658h0M757 662h0M765 659h0M758 665h0M770 660h0M750 699h0M751 703h0M751 699h0M754 699h0M759 702h0M741 710h0M746 711h0M736 718h0M737 717h0M743 720h0M746 721h0M739 725h0M739 720h0M749 728h0M746 717h0M748 716h0M754 720h0M751 718h0M754 716h0M757 721h0M757 718h0M762 716h0M763 714h0M765 717h0M766 718h0M769 720h0M772 721h0M769 723h0M767 727h0M766 731h0M766 735h0M762 727h0M761 726h0M761 733h0M754 726h0M755 731h0M753 736h0M752 730h0M749 728h0M749 734h0M750 738h0M749 740h0M744 742h0M750 744h0M747 748h0M744 714h0M746 715h0M745 719h0M748 718h0M749 725h0M755 720h0M756 720h0M758 724h0M760 723h0M774 738h0M780 737h0M779 741h0M781 739h0M780 743h0M782 746h0M786 745h0M783 751h0M787 749h0M784 752h0M786 756h0M788 757h0M793 753h0M790 759h0M794 764h0M797 760h0M797 765h0M800 763h0M802 768h0M805 768h0M808 758h0M809 761h0M811 766h0M812 768h0M814 770h0M819 769h0M821 765h0M822 768h0M756 741h0M760 738h0M762 744h0M767 741h0M764 743h0M627 738h0M629 737h0M630 739h0M628 747h0M632 745h0M636 740h0M634 744h0M617 753h0M622 755h0M621 758h0M622 761h0M625 754h0M628 763h0M630 754h0M643 762h0M645 769h0M649 760h0M648 769h0M650 767h0M654 768h0M663 734h0M662 735h0M663 742h0M665 745h0M666 744h0M671 745h0M670 751h0M677 741h0M678 743h0M680 743h0M681 747h0M680 748h0M676 755h0M678 758h0M679 761h0M679 764h0M681 762h0M685 766h0M686 766h0M688 768h0M686 771h0M692 769h0M685 781h0M692 773h0M691 779h0M691 779h0M692 779h0M693 785h0M697 784h0M703 783h0M702 783h0M705 785h0M698 793h0M706 790h0M700 794h0M659 775h0M658 778h0M666 772h0M664 782h0M666 782h0M664 785h0M669 780h0M674 785h0M670 787h0M671 786h0M674 790h0M667 790h0M658 789h0M668 795h0M660 792h0M663 796h0M665 797h0M666 803h0M653 803h0M657 807h0M653 811h0M670 808h0M669 809h0M669 812h0M670 810h0M708 808h0M706 814h0M708 816h0M710 813h0M712 814h0M716 814h0M720 816h0M718 808h0M721 809h0M722 806h0M728 808h0M726 811h0M730 818h0M733 819h0M735 814h0M739 812h0M736 819h0M724 794h0M726 796h0M729 796h0M724 798h0M726 800h0M732 797h0M734 797h0M735 795h0M738 802h0M738 795h0M738 792h0M745 801h0M746 795h0M749 797h0M747 790h0M748 790h0M753 794h0M759 788h0M751 795h0M759 789h0M760 798h0M762 798h0M746 773h0M746 769h0M749 768h0M754 763h0M749 767h0M752 767h0M751 769h0M748 774h0M755 774h0M753 777h0M757 781h0M751 779h0M754 782h0M747 784h0M750 787h0M750 787h0M750 791h0M764 760h0M766 759h0M765 763h0M765 761h0M774 807h0M777 805h0M780 804h0M781 811h0M785 808h0M781 816h0M784 812h0M784 807h0M789 810h0M783 805h0M789 803h0M790 805h0M787 797h0M788 796h0M789 793h0M790 791h0M792 792h0M794 788h0M800 789h0M796 786h0M796 786h0M801 785h0M800 778h0M801 777h0M806 779h0M805 778h0M803 774h0M805 768h0M808 771h0M809 769h0M809 777h0M813 772h0M816 775h0M818 778h0M816 780h0M818 780h0M823 775h0M827 779h0M828 779h0M830 780h0M831 778h0M832 775h0M832 771h0M836 775h0M811 784h0M807 790h0M811 792h0M816 789h0M819 793h0M816 798h0M817 791h0M817 792h0M824 799h0M825 794h0M830 796h0M832 787h0M826 800h0M835 796h0M832 801h0M833 804h0M840 752h0M844 753h0M841 753h0M843 752h0M805 822h0M807 822h0M809 822h0M809 825h0M812 826h0M817 825h0M815 829h0M815 833h0M817 836h0M823 831h0M824 834h0M822 837h0M830 837h0M827 841h0M827 844h0M828 846h0M829 848h0M833 846h0M834 854h0M831 844h0M837 854h0M838 846h0M843 855h0M841 845h0M846 853h0M846 844h0M848 842h0M849 844h0M858 843h0M850 851h0M859 849h0M852 851h0M852 854h0M818 837h0M817 845h0M821 845h0M820 847h0M821 845h0M830 862h0M829 860h0M831 867h0M834 863h0M835 864h0M836 818h0M836 815h0M838 818h0M841 816h0M840 815h0M848 815h0M847 815h0M850 811h0M851 811h0M850 810h0M857 810h0M857 808h0M860 827h0M864 823h0M868 823h0M871 824h0M870 822h0M873 829h0M875 827h0M875 819h0M879 823h0M877 818h0M883 820h0M882 818h0M879 820h0M887 814h0M878 814h0M881 811h0M878 813h0M875 808h0M873 806h0M880 781h0M881 783h0M879 780h0M881 779h0M835 679h0M834 682h0M836 683h0M839 686h0M842 686h0M836 692h0M844 693h0M834 697h0M836 696h0M838 699h0M834 703h0M835 704h0M835 706h0M834 707h0M843 709h0M836 714h0M841 714h0M836 717h0M835 719h0M843 716h0M834 725h0M843 724h0M843 723h0M841 727h0M846 725h0M849 673h0M859 671h0M856 670h0M851 678h0M854 675h0M858 696h0M851 696h0M856 696h0M852 699h0M858 701h0M857 705h0M851 707h0M854 709h0M854 709h0M853 711h0M854 713h0M855 716h0M855 717h0M856 723h0M857 723h0M863 722h0M864 722h0M861 729h0M866 727h0M862 674h0M866 669h0M869 676h0M866 666h0M873 675h0M869 666h0M869 672h0M869 672h0M873 673h0M870 676h0M871 677h0M871 680h0M881 680h0M882 683h0M877 679h0M877 690h0M883 683h0M887 686h0M888 685h0M891 688h0M883 693h0M885 693h0M896 694h0M871 702h0M865 706h0M874 704h0M881 731h0M884 733h0M887 732h0M887 730h0M890 729h0M894 729h0M896 729h0M895 720h0M895 720h0M899 727h0M902 730h0M901 722h0M904 729h0M905 728h0M910 720h0M910 727h0M909 727h0M916 724h0M919 727h0M897 685h0M892 688h0M895 688h0M905 688h0M905 688h0M906 691h0M896 698h0M897 699h0M900 704h0M904 702h0M904 703h0M912 702h0M910 705h0M915 695h0M918 693h0M918 697h0M923 697h0M925 697h0M923 701h0M926 703h0M932 701h0M926 705h0M927 709h0M935 708h0M927 706h0M929 712h0M922 707h0M925 719h0M921 716h0M930 675h0M932 673h0M936 673h0M939 677h0M940 676h0M942 676h0M945 676h0M948 668h0M946 677h0M953 673h0M949 680h0M957 672h0M953 681h0M959 677h0M961 679h0M963 678h0M959 682h0M965 678h0M964 688h0M967 683h0M971 680h0M971 683h0M976 682h0M978 684h0M937 689h0M938 687h0M934 693h0M940 697h0M943 694h0M945 696h0M947 696h0M949 699h0M943 703h0M938 702h0M944 704h0M935 704h0M943 708h0M939 711h0M942 716h0M939 715h0M942 720h0M939 720h0M933 719h0M957 699h0M959 699h0M951 705h0M957 704h0M954 709h0M958 710h0M962 710h0M958 712h0M963 711h0M967 715h0M964 718h0M963 723h0M970 721h0M971 660h0M968 663h0M973 663h0M970 664h0M977 675h0M977 676h0M973 672h0M975 672h0M992 664h0M993 659h0M997 658h0M998 660h0M1002 659h0M1004 664h0M1004 660h0M1005 656h0M1010 666h0M1011 665h0M1013 660h0M1011 654h0M1019 664h0M1019 656h0M1017 653h0M1022 661h0M1025 658h0M1025 653h0M1028 653h0M1027 651h0M1031 650h0M1034 652h0M1033 646h0M1035 655h0M1039 650h0M1041 650h0M1042 659h0M1045 648h0M1030 669h0M1040 662h0M1034 670h0M1038 669h0M1038 670h0M1040 675h0M1044 675h0M1048 672h0M1044 678h0M1049 675h0M1044 679h0M1044 683h0M1042 687h0M993 688h0M995 691h0M1002 688h0M1002 688h0M1003 688h0M1003 694h0M1006 692h0M1008 686h0M1011 690h0M1009 687h0M1011 685h0M980 702h0M985 702h0M988 703h0M991 708h0M991 705h0M995 703h0M999 705h0M1002 706h0M998 712h0M1001 710h0M1006 710h0M998 719h0M1004 719h0M1004 720h0M1009 719h0M1009 722h0M1009 722h0M1008 717h0M1015 721h0M1016 718h0M1013 715h0M1022 719h0M1022 715h0M1021 709h0M1024 715h0M1025 711h0M1030 712h0M1028 708h0M1033 710h0M1033 708h0M1033 709h0M1033 703h0M1040 706h0M1040 705h0M1041 709h0M1035 709h0M1040 713h0M1037 715h0M1032 716h0M1033 718h0M1040 721h0M1033 724h0M1042 727h0M1032 729h0M1031 731h0M986 725h0M984 730h0M995 731h0M995 734h0M994 731h0M989 737h0M997 739h0M994 742h0M1001 739h0M996 743h0M996 745h0M993 748h0M1013 734h0M1014 736h0M1019 729h0M1020 734h0M1025 729h0M1024 735h0M1021 739h0M1029 734h0M1030 736h0M1034 740h0M1030 745h0M1037 742h0M1036 745h0M1038 747h0M1033 751h0M1033 754h0M1036 755h0M1031 757h0M1005 750h0M998 752h0M1003 756h0M993 753h0M1002 757h0M1002 759h0M929 744h0M931 745h0M935 747h0M939 738h0M938 745h0M941 748h0M940 749h0M939 751h0M886 744h0M881 745h0M884 746h0M882 743h0M936 764h0M939 761h0M941 763h0M944 766h0M944 775h0M943 776h0M947 772h0M950 773h0M950 778h0M948 781h0M944 780h0M940 779h0M939 781h0M935 786h0M939 787h0M936 791h0M938 794h0M943 791h0M970 759h0M976 760h0M970 761h0M975 764h0M977 766h0M970 768h0M975 770h0M968 772h0M924 785h0M925 784h0M927 786h0M926 781h0M932 784h0M896 780h0M896 782h0M900 785h0M899 787h0M892 792h0M901 791h0M899 792h0M900 797h0M906 797h0M904 799h0M896 803h0M898 805h0M898 806h0M899 806h0M903 811h0M900 811h0M900 815h0M900 817h0M895 814h0M898 818h0M902 814h0M913 787h0M907 796h0M912 794h0M919 795h0M916 797h0M915 794h0M919 799h0M920 805h0M922 801h0M925 812h0M929 814h0M934 817h0M932 812h0M935 816h0M938 811h0M931 825h0M935 828h0M937 826h0M936 818h0M939 819h0M938 819h0M946 823h0M944 815h0M945 817h0M952 821h0M950 815h0M952 815h0M953 814h0M957 816h0M954 806h0M958 808h0M957 803h0M963 805h0M966 805h0M969 805h0M968 801h0M965 796h0M970 796h0M973 795h0M976 793h0M992 781h0M1002 785h0M998 787h0M997 790h0M994 790h0M999 795h0M994 796h0M990 797h0M990 798h0M988 800h0M983 798h0M982 803h0M986 808h0M988 809h0M990 811h0M978 810h0M978 815h0M984 815h0M981 817h0M987 818h0M977 823h0M984 827h0M1008 788h0M1009 788h0M1013 781h0M1013 790h0M1015 792h0M1020 785h0M1016 788h0M1018 791h0M1018 795h0M1024 796h0M1026 793h0M1027 794h0M1020 755h0M1023 757h0M1022 762h0M1025 763h0M1023 769h0M1025 766h0M1030 764h0M1025 774h0M1028 772h0M1037 771h0M1032 777h0M1028 779h0M1035 778h0M1032 781h0M1034 786h0M1038 786h0M1041 782h0M1043 789h0M1039 790h0M1041 788h0M1045 793h0M1044 784h0M1047 784h0M1052 792h0M1052 792h0M1054 791h0M1054 786h0M1060 786h0M1063 790h0M1064 793h0M1065 783h0M1066 792h0M1070 782h0M1072 782h0M1075 789h0M1065 748h0M1058 747h0M1060 750h0M1059 754h0M1055 755h0M1055 754h0M1052 760h0M1058 760h0M1064 759h0M1061 761h0M1064 763h0M1060 771h0M1062 774h0M1063 771h0M1064 774h0M1065 775h0M1063 778h0M1057 775h0M1057 776h0M1058 782h0M1054 784h0M1049 777h0M1051 783h0M1044 785h0M1051 788h0M1050 788h0M1049 790h0M1052 795h0M1044 797h0M1046 797h0M1050 798h0M1055 799h0M1047 804h0M1052 808h0M1050 809h0M1045 809h0M1050 812h0M1050 815h0M1043 815h0M1047 821h0M1046 820h0M1048 813h0M1051 817h0M1052 814h0M1055 819h0M1055 811h0M1056 810h0M1058 807h0M1064 814h0M1065 809h0M1016 811h0M1021 815h0M1023 811h0M885 841h0M889 838h0M889 841h0M888 842h0M896 842h0M896 845h0M901 842h0M896 850h0M898 852h0M901 847h0M904 847h0M910 853h0M907 841h0M909 845h0M914 840h0M915 839h0M914 836h0M910 835h0M882 853h0M889 854h0M891 853h0M893 854h0M892 859h0M894 858h0M897 863h0M899 865h0M897 863h0M904 861h0M906 858h0M913 858h0M915 853h0M916 855h0M916 856h0M893 834h0M893 828h0M946 852h0M948 853h0M950 844h0M953 851h0M956 847h0M958 850h0M961 851h0M960 852h0M958 858h0M964 855h0M966 854h0M964 849h0M967 850h0M973 854h0M973 850h0M977 849h0M978 847h0M978 845h0M979 842h0M972 841h0M974 838h0M980 836h0M982 836h0M978 842h0M983 843h0M978 847h0M982 847h0M990 843h0M987 853h0M992 845h0M993 850h0M945 867h0M948 866h0M952 866h0" stroke="#ffff00" stroke-width="6.6" stroke-linecap="square" fill="none"/>

<path d="M844 1096h0M851 1082h0M861 1077h0M874 1082h0M879 1090h0M881 1103h0M895 1103h0M902 1112h0M917 1113h0M920 1125h0M930 1127h0M831 1112h0M840 1105h0M852 1114h0M862 1111h0M872 1116h0M881 1108h0M846 1113h0M859 1119h0M849 1092h0M913 1120h0M845 1136h0M856 1141h0M855 1149h0M846 1146h0M895 1134h0M861 1159h0M943 1074h0M951 1075h0M949 1078h0M943 1106h0M947 1105h0M990 1116h0M1003 1104h0M1015 1102h0M1023 1093h0M1027 1079h0M1038 1077h0M1048 1076h0M1062 1074h0M1067 1073h0M1072 1071h0M1066 1082h0M1066 1092h0M1011 1107h0M1042 1107h0M1045 1093h0M959 1144h0M968 1151h0M982 1154h0M989 1143h0M996 1133h0M998 1133h0M988 1132h0M964 1158h0M965 1160h0M995 1167h0M971 1173h0M971 1185h0M964 1186h0M976 1192h0M1059 1120h0M1074 1120h0M1079 1110h0M1087 1118h0M1090 1126h0M1083 1138h0M1071 1138h0M1061 1131h0M1058 1159h0M1093 1150h0M1117 1121h0M1126 1134h0M1118 1140h0M1108 1150h0M1113 1159h0M1123 1165h0M1136 1165h0M1086 1170h0M1099 1170h0M1108 1172h0M1119 1174h0M1126 1174h0M1132 1184h0M1146 1186h0M1155 1191h0M1163 1199h0M1178 1173h0M1158 1214h0M824 1186h0M834 1193h0M825 1201h0M809 1220h0M814 1228h0M822 1232h0M831 1233h0M849 1235h0M854 1225h0M862 1217h0M865 1206h0M874 1212h0M889 1211h0M898 1203h0M909 1201h0M835 1208h0M869 1194h0M856 1246h0M918 1197h0M932 1207h0M869 1231h0M885 1220h0M898 1232h0M908 1239h0M921 1222h0M921 1249h0M925 1249h0M923 1257h0M923 1271h0M911 1257h0M854 1270h0M864 1273h0M883 1266h0M890 1278h0M899 1285h0M911 1288h0M912 1299h0M919 1310h0M890 1285h0M895 1295h0M882 1305h0M880 1302h0M876 1311h0M941 1272h0M897 1258h0M997 1189h0M1005 1189h0M1018 1191h0M1028 1202h0M999 1208h0M998 1219h0M1006 1228h0M1004 1239h0M1001 1246h0M1017 1207h0M1023 1215h0M1039 1217h0M1048 1226h0M965 1230h0M968 1249h0M972 1261h0M981 1248h0M987 1260h0M995 1266h0M979 1278h0M990 1280h0M1001 1270h0M1008 1262h0M1017 1262h0M1028 1253h0M1036 1255h0M1041 1265h0M1034 1270h0M1035 1277h0M1043 1280h0M1053 1275h0M978 1287h0M987 1293h0M1014 1288h0M928 1298h0M939 1308h0M921 1317h0M909 1328h0M918 1334h0M929 1336h0M938 1341h0M945 1317h0M967 1319h0M973 1329h0M977 1338h0M972 1348h0M961 1353h0M951 1347h0M970 1313h0M986 1315h0M1004 1316h0M1017 1309h0M1027 1318h0M1029 1326h0M1035 1337h0M1043 1345h0M1042 1316h0M1055 1312h0M1048 1304h0M977 1362h0M987 1367h0M997 1377h0M985 1375h0M1022 1352h0M1052 1357h0M1075 1312h0M1078 1296h0M1084 1301h0M1101 1291h0M1103 1279h0M1111 1270h0M1085 1216h0M1096 1217h0M1104 1204h0M1105 1201h0M1106 1212h0M1118 1216h0M1119 1227h0M1083 1235h0M1088 1236h0M1135 1219h0M1185 1200h0M1198 1198h0M1183 1215h0M1193 1224h0M1206 1219h0M1214 1224h0M1218 1237h0M1213 1245h0M1219 1254h0M1132 1249h0M1138 1248h0M1149 1258h0M1154 1262h0M1164 1272h0M1159 1252h0M1185 1260h0M1233 1250h0M1213 1268h0M1242 1260h0M1243 1275h0M1250 1285h0M1251 1293h0M1218 1290h0M1217 1294h0M1226 1287h0M1237 1286h0M1142 1285h0M1131 1293h0M1150 1294h0M1150 1300h0M1164 1288h0M1172 1294h0M1168 1305h0M1183 1306h0M1190 1319h0M1203 1311h0M1214 1307h0M1210 1322h0M1126 1304h0M1136 1304h0M1094 1324h0M1106 1323h0M1082 1331h0M1084 1340h0M1079 1350h0M1083 1354h0M1093 1341h0M1101 1328h0M1119 1332h0M1074 1352h0M1092 1362h0M1113 1363h0M1141 1325h0M1152 1329h0M1164 1324h0M1174 1326h0M1185 1334h0M1191 1341h0M1183 1351h0M1171 1352h0M1163 1352h0M1202 1336h0M1208 1348h0M1203 1360h0M1209 1369h0M1211 1382h0M1222 1385h0M1226 1336h0M1225 1348h0M1234 1354h0M1245 1359h0M1258 1363h0M1259 1349h0M1271 1342h0M1277 1339h0M1249 1326h0M1261 1330h0M1150 1367h0M1162 1373h0M1171 1372h0M1177 1382h0M1182 1395h0M1186 1401h0M1177 1403h0M1171 1407h0M1194 1376h0M1198 1390h0M1203 1400h0M1210 1402h0M1204 1379h0M1217 1380h0" stroke="#00ff10" stroke-opacity="0.5" stroke-width="6.6" stroke-linecap="square" fill="none"/><path d="M834 1090h0M836 1092h0M839 1099h0M837 1090h0M839 1088h0M845 1090h0M848 1095h0M847 1091h0M852 1093h0M848 1084h0M852 1080h0M853 1083h0M857 1085h0M858 1079h0M860 1077h0M865 1079h0M865 1075h0M865 1088h0M870 1078h0M872 1080h0M876 1081h0M877 1084h0M875 1091h0M874 1088h0M882 1088h0M880 1092h0M885 1094h0M882 1096h0M880 1101h0M880 1101h0M886 1100h0M886 1103h0M891 1099h0M894 1099h0M896 1101h0M894 1111h0M896 1109h0M897 1106h0M898 1109h0M902 1107h0M908 1106h0M905 1114h0M908 1116h0M909 1114h0M912 1114h0M914 1118h0M919 1112h0M916 1122h0M919 1120h0M922 1118h0M925 1118h0M928 1121h0M926 1125h0M929 1127h0M929 1128h0M936 1129h0M933 1132h0M928 1136h0M939 1136h0M829 1111h0M832 1110h0M834 1115h0M833 1107h0M835 1107h0M837 1104h0M840 1109h0M844 1103h0M847 1115h0M848 1115h0M850 1104h0M852 1104h0M854 1110h0M856 1110h0M860 1110h0M859 1108h0M863 1113h0M867 1117h0M866 1116h0M868 1112h0M870 1118h0M875 1115h0M877 1105h0M879 1108h0M881 1109h0M880 1114h0M884 1113h0M885 1112h0M886 1110h0M889 1114h0M890 1111h0M850 1113h0M847 1124h0M852 1118h0M853 1118h0M859 1115h0M857 1125h0M860 1123h0M859 1123h0M864 1124h0M848 1093h0M852 1095h0M851 1097h0M852 1104h0M917 1109h0M918 1114h0M844 1139h0M842 1132h0M845 1136h0M848 1135h0M847 1133h0M852 1134h0M852 1139h0M858 1134h0M858 1137h0M855 1145h0M858 1143h0M856 1146h0M864 1144h0M860 1151h0M859 1146h0M856 1143h0M852 1150h0M851 1140h0M848 1143h0M848 1150h0M887 1138h0M890 1137h0M890 1132h0M891 1135h0M894 1137h0M898 1134h0M897 1139h0M899 1137h0M904 1137h0M866 1158h0M868 1162h0M868 1165h0M859 1166h0M941 1070h0M940 1075h0M944 1071h0M946 1070h0M951 1071h0M951 1080h0M951 1075h0M951 1079h0M957 1077h0M957 1081h0M958 1086h0M958 1087h0M950 1083h0M946 1080h0M945 1081h0M939 1108h0M940 1099h0M943 1102h0M945 1102h0M946 1100h0M948 1103h0M952 1103h0M955 1104h0M947 1112h0M948 1112h0M954 1110h0M984 1115h0M1021 1119h0M1022 1123h0M1022 1119h0M1019 1121h0M1022 1123h0M1006 1096h0M1007 1099h0M1006 1091h0M1012 1103h0M1013 1099h0M1013 1090h0M1021 1098h0M1015 1090h0M1016 1089h0M1018 1090h0M1025 1091h0M1025 1087h0M1025 1085h0M1027 1084h0M1028 1084h0M1030 1081h0M1037 1084h0M1036 1081h0M1038 1082h0M1039 1083h0M1041 1071h0M1046 1083h0M1044 1074h0M1044 1074h0M1048 1073h0M1051 1070h0M1054 1077h0M1056 1077h0M1057 1068h0M1058 1075h0M1061 1068h0M1065 1076h0M1066 1070h0M1068 1071h0M1070 1070h0M1072 1069h0M1075 1068h0M1077 1069h0M1076 1073h0M1078 1076h0M1072 1073h0M1077 1077h0M1073 1080h0M1070 1079h0M1074 1082h0M1068 1086h0M1066 1087h0M1072 1090h0M1063 1090h0M1068 1091h0M1009 1089h0M1011 1090h0M1011 1080h0M1013 1088h0M1015 1088h0M1012 1106h0M1017 1108h0M1008 1113h0M1019 1112h0M1036 1102h0M1040 1103h0M1040 1100h0M1045 1101h0M1044 1098h0M1046 1099h0M1048 1092h0M1049 1096h0M1050 1095h0M1053 1104h0M954 1144h0M962 1145h0M960 1148h0M966 1145h0M965 1151h0M968 1144h0M973 1145h0M974 1147h0M979 1146h0M973 1154h0M979 1152h0M981 1149h0M984 1147h0M984 1147h0M985 1144h0M988 1144h0M991 1142h0M993 1142h0M992 1135h0M996 1138h0M999 1137h0M1004 1139h0M1002 1138h0M1005 1131h0M1000 1129h0M1000 1128h0M996 1132h0M994 1127h0M990 1131h0M989 1131h0M986 1131h0M986 1133h0M982 1127h0M980 1134h0M977 1129h0M979 1140h0M962 1159h0M962 1161h0M961 1164h0M964 1167h0M965 1161h0M968 1162h0M969 1166h0M968 1166h0M976 1160h0M977 1163h0M992 1166h0M994 1163h0M993 1162h0M992 1162h0M964 1174h0M974 1174h0M970 1177h0M969 1180h0M973 1184h0M970 1182h0M967 1185h0M961 1181h0M962 1186h0M960 1187h0M963 1192h0M967 1192h0M967 1190h0M968 1184h0M971 1188h0M974 1193h0M978 1190h0M979 1180h0M1059 1130h0M1060 1131h0M1061 1122h0M1065 1124h0M1068 1123h0M1069 1123h0M1071 1119h0M1071 1114h0M1075 1121h0M1076 1119h0M1075 1111h0M1081 1120h0M1082 1117h0M1085 1112h0M1087 1112h0M1090 1110h0M1086 1113h0M1092 1114h0M1083 1122h0M1093 1119h0M1093 1121h0M1088 1126h0M1096 1126h0M1092 1132h0M1090 1130h0M1088 1133h0M1081 1131h0M1084 1130h0M1081 1129h0M1081 1139h0M1078 1139h0M1074 1132h0M1075 1139h0M1070 1131h0M1070 1130h0M1067 1133h0M1067 1142h0M1064 1130h0M1057 1147h0M1058 1149h0M1057 1154h0M1060 1154h0M1058 1157h0M1067 1154h0M1091 1146h0M1094 1147h0M1094 1150h0M1089 1148h0M1106 1117h0M1108 1125h0M1110 1122h0M1110 1125h0M1112 1122h0M1115 1129h0M1116 1131h0M1120 1128h0M1119 1132h0M1123 1127h0M1117 1132h0M1123 1135h0M1116 1133h0M1117 1137h0M1117 1138h0M1117 1143h0M1112 1143h0M1107 1140h0M1109 1147h0M1112 1148h0M1106 1153h0M1115 1150h0M1114 1156h0M1110 1157h0M1114 1154h0M1115 1165h0M1118 1164h0M1120 1159h0M1122 1159h0M1120 1164h0M1130 1158h0M1123 1165h0M1124 1167h0M1134 1163h0M1135 1163h0M1079 1170h0M1078 1164h0M1081 1167h0M1085 1164h0M1088 1169h0M1093 1165h0M1089 1175h0M1094 1168h0M1095 1169h0M1096 1169h0M1100 1172h0M1102 1171h0M1100 1180h0M1106 1172h0M1105 1174h0M1106 1170h0M1113 1177h0M1110 1166h0M1112 1174h0M1115 1175h0M1084 1182h0M1083 1182h0M1085 1179h0M1088 1179h0M1087 1183h0M1134 1176h0M1135 1175h0M1131 1176h0M1131 1179h0M1138 1180h0M1132 1184h0M1135 1190h0M1136 1188h0M1136 1191h0M1141 1189h0M1142 1194h0M1145 1190h0M1149 1190h0M1146 1197h0M1149 1195h0M1149 1201h0M1156 1197h0M1158 1197h0M1160 1201h0M1155 1197h0M1157 1192h0M1171 1182h0M1173 1182h0M1173 1179h0M1176 1177h0M1157 1205h0M1157 1207h0M1156 1209h0M1150 1211h0M1158 1213h0M1156 1218h0M1151 1214h0M820 1178h0M822 1182h0M822 1185h0M830 1181h0M829 1185h0M832 1186h0M827 1189h0M824 1193h0M835 1195h0M833 1196h0M828 1197h0M828 1197h0M823 1200h0M827 1207h0M824 1205h0M811 1212h0M809 1216h0M814 1216h0M819 1217h0M819 1221h0M809 1222h0M818 1224h0M816 1226h0M820 1231h0M810 1233h0M815 1235h0M806 1237h0M819 1237h0M825 1230h0M828 1222h0M831 1227h0M829 1231h0M836 1225h0M833 1236h0M834 1237h0M836 1230h0M837 1231h0M844 1232h0M848 1233h0M847 1226h0M850 1227h0M846 1223h0M854 1228h0M860 1226h0M858 1223h0M854 1219h0M856 1219h0M858 1216h0M862 1214h0M861 1211h0M857 1207h0M862 1212h0M866 1210h0M865 1205h0M869 1201h0M870 1204h0M870 1211h0M874 1206h0M877 1206h0M880 1212h0M881 1208h0M882 1205h0M886 1200h0M888 1204h0M891 1209h0M893 1200h0M895 1198h0M897 1206h0M900 1200h0M902 1201h0M902 1204h0M904 1207h0M906 1202h0M909 1202h0M914 1201h0M834 1209h0M834 1208h0M835 1206h0M835 1206h0M865 1188h0M871 1188h0M871 1189h0M874 1189h0M858 1234h0M854 1241h0M854 1243h0M856 1242h0M857 1245h0M859 1250h0M863 1245h0M861 1252h0M863 1252h0M862 1253h0M921 1196h0M923 1200h0M924 1202h0M931 1195h0M932 1196h0M933 1199h0M934 1201h0M935 1207h0M939 1205h0M874 1228h0M873 1227h0M874 1229h0M872 1227h0M883 1222h0M886 1221h0M887 1223h0M883 1219h0M896 1226h0M897 1227h0M900 1227h0M904 1231h0M903 1231h0M904 1234h0M906 1235h0M910 1233h0M915 1230h0M923 1220h0M924 1223h0M923 1222h0M920 1223h0M888 1240h0M887 1241h0M888 1245h0M891 1243h0M887 1242h0M919 1242h0M919 1238h0M921 1241h0M925 1243h0M923 1246h0M926 1249h0M928 1250h0M921 1252h0M923 1254h0M927 1256h0M927 1258h0M921 1261h0M919 1262h0M926 1267h0M923 1267h0M923 1274h0M921 1274h0M920 1275h0M910 1259h0M912 1260h0M912 1257h0M913 1258h0M856 1268h0M854 1269h0M852 1268h0M855 1271h0M863 1273h0M868 1268h0M863 1272h0M863 1271h0M878 1264h0M882 1268h0M880 1260h0M882 1257h0M884 1263h0M887 1266h0M890 1266h0M892 1266h0M896 1269h0M891 1270h0M894 1275h0M898 1274h0M900 1278h0M898 1280h0M896 1285h0M906 1278h0M903 1286h0M905 1286h0M912 1283h0M911 1287h0M911 1293h0M913 1296h0M913 1296h0M916 1293h0M914 1296h0M915 1297h0M923 1302h0M915 1300h0M920 1305h0M921 1308h0M858 1285h0M863 1279h0M863 1279h0M864 1290h0M866 1282h0M890 1290h0M892 1290h0M893 1293h0M891 1292h0M888 1295h0M894 1298h0M888 1292h0M891 1304h0M889 1305h0M882 1295h0M884 1296h0M879 1305h0M879 1295h0M875 1302h0M873 1297h0M879 1304h0M870 1300h0M871 1306h0M876 1305h0M874 1307h0M872 1314h0M900 1300h0M904 1301h0M943 1267h0M940 1268h0M944 1271h0M944 1270h0M897 1256h0M898 1257h0M897 1257h0M899 1259h0M1000 1182h0M997 1182h0M996 1185h0M1002 1185h0M996 1191h0M1002 1189h0M1004 1190h0M1005 1189h0M1004 1197h0M1010 1191h0M1011 1196h0M1012 1197h0M1013 1196h0M1018 1192h0M1022 1194h0M1022 1196h0M1021 1196h0M1024 1200h0M1027 1198h0M1031 1204h0M1033 1199h0M1037 1196h0M991 1205h0M995 1209h0M1000 1210h0M994 1212h0M989 1217h0M994 1215h0M998 1217h0M990 1225h0M998 1225h0M1002 1222h0M997 1232h0M1005 1224h0M1007 1227h0M1002 1231h0M1010 1232h0M1011 1235h0M1007 1238h0M1004 1238h0M1011 1242h0M1003 1242h0M1008 1245h0M1000 1246h0M999 1248h0M1004 1252h0M998 1253h0M1016 1212h0M1017 1205h0M1023 1206h0M1026 1206h0M1020 1211h0M1028 1211h0M1024 1215h0M1028 1216h0M1028 1220h0M1021 1220h0M1021 1221h0M1025 1224h0M1041 1225h0M1043 1218h0M1042 1226h0M1045 1222h0M1048 1219h0M1053 1219h0M1053 1221h0M963 1229h0M966 1227h0M964 1227h0M965 1226h0M960 1246h0M962 1245h0M966 1245h0M966 1247h0M963 1256h0M971 1253h0M964 1258h0M973 1258h0M974 1259h0M970 1265h0M970 1263h0M969 1269h0M968 1267h0M979 1246h0M984 1249h0M986 1251h0M988 1252h0M986 1257h0M987 1254h0M993 1253h0M995 1252h0M995 1258h0M999 1258h0M992 1265h0M992 1249h0M995 1252h0M996 1246h0M977 1278h0M979 1276h0M979 1276h0M983 1271h0M985 1273h0M987 1274h0M989 1272h0M992 1272h0M992 1271h0M997 1276h0M993 1270h0M1002 1277h0M1004 1272h0M1002 1264h0M1004 1268h0M1006 1266h0M1010 1273h0M1011 1272h0M1013 1267h0M1015 1268h0M1014 1260h0M1012 1258h0M1024 1264h0M1016 1254h0M1019 1252h0M1025 1259h0M1024 1252h0M1026 1252h0M1032 1249h0M1035 1251h0M1032 1256h0M1032 1257h0M1040 1255h0M1035 1263h0M1041 1260h0M1036 1264h0M1043 1265h0M1045 1270h0M1036 1267h0M1037 1267h0M1037 1272h0M1040 1275h0M1032 1269h0M1034 1280h0M1028 1271h0M1029 1279h0M1031 1275h0M1036 1279h0M1040 1276h0M1037 1278h0M1043 1284h0M1043 1278h0M1065 1262h0M1062 1263h0M1061 1259h0M1065 1259h0M1064 1260h0M1057 1277h0M1061 1277h0M1059 1281h0M1059 1282h0M1058 1283h0M976 1296h0M980 1288h0M979 1294h0M980 1295h0M984 1294h0M990 1299h0M979 1300h0M983 1304h0M981 1304h0M983 1305h0M1009 1289h0M1011 1290h0M1013 1293h0M1006 1296h0M1010 1297h0M928 1310h0M929 1307h0M930 1306h0M935 1305h0M931 1309h0M940 1309h0M935 1311h0M932 1317h0M916 1315h0M917 1315h0M911 1320h0M915 1319h0M915 1324h0M917 1326h0M913 1325h0M916 1333h0M904 1329h0M909 1334h0M910 1338h0M912 1337h0M917 1331h0M920 1333h0M921 1341h0M923 1343h0M928 1334h0M929 1341h0M929 1342h0M930 1345h0M932 1342h0M932 1347h0M939 1344h0M940 1345h0M938 1349h0M943 1348h0M945 1320h0M943 1318h0M941 1319h0M944 1319h0M963 1317h0M965 1319h0M960 1325h0M971 1323h0M970 1323h0M968 1327h0M969 1329h0M972 1335h0M973 1335h0M980 1331h0M980 1335h0M976 1339h0M979 1342h0M981 1345h0M979 1346h0M973 1343h0M978 1348h0M975 1354h0M971 1345h0M969 1350h0M966 1353h0M964 1346h0M964 1346h0M959 1348h0M956 1346h0M957 1350h0M953 1345h0M952 1349h0M951 1352h0M971 1312h0M975 1310h0M970 1315h0M978 1314h0M987 1319h0M985 1314h0M989 1320h0M989 1319h0M1002 1314h0M997 1310h0M1003 1311h0M1002 1308h0M1007 1308h0M1009 1310h0M1010 1316h0M1011 1314h0M1014 1314h0M1015 1311h0M1021 1319h0M1021 1313h0M1026 1309h0M1026 1313h0M1024 1318h0M1027 1320h0M1026 1321h0M1031 1322h0M1035 1322h0M1032 1325h0M1032 1328h0M1037 1332h0M1030 1334h0M1026 1333h0M1035 1337h0M1032 1341h0M1032 1342h0M1037 1345h0M1039 1341h0M1040 1338h0M1045 1343h0M1046 1347h0M1040 1319h0M1042 1320h0M1042 1317h0M1043 1312h0M1046 1314h0M1051 1311h0M1052 1318h0M1054 1318h0M1059 1315h0M1042 1297h0M1040 1304h0M1047 1298h0M1046 1307h0M1058 1305h0M1057 1301h0M1056 1301h0M1058 1302h0M1053 1304h0M972 1367h0M974 1367h0M982 1365h0M982 1368h0M985 1366h0M984 1374h0M988 1376h0M988 1370h0M993 1378h0M994 1377h0M997 1369h0M998 1366h0M979 1383h0M981 1382h0M984 1384h0M1000 1356h0M1003 1355h0M1009 1350h0M1011 1348h0M1022 1356h0M1027 1357h0M1024 1357h0M1025 1357h0M1049 1352h0M1052 1354h0M1051 1354h0M1054 1354h0M1073 1313h0M1071 1313h0M1074 1311h0M1076 1312h0M1065 1297h0M1073 1294h0M1075 1292h0M1075 1295h0M1077 1297h0M1079 1300h0M1077 1307h0M1080 1298h0M1082 1297h0M1086 1298h0M1106 1299h0M1099 1291h0M1107 1296h0M1104 1291h0M1107 1285h0M1098 1288h0M1105 1284h0M1103 1284h0M1106 1282h0M1109 1279h0M1110 1277h0M1102 1272h0M1104 1271h0M1110 1272h0M1113 1271h0M1110 1262h0M1114 1270h0M1117 1264h0M1080 1217h0M1086 1217h0M1087 1213h0M1090 1217h0M1095 1218h0M1095 1216h0M1100 1213h0M1100 1213h0M1095 1204h0M1105 1212h0M1097 1204h0M1101 1201h0M1103 1200h0M1098 1198h0M1103 1196h0M1102 1201h0M1103 1205h0M1102 1207h0M1103 1207h0M1100 1209h0M1105 1211h0M1107 1215h0M1104 1219h0M1108 1218h0M1113 1216h0M1112 1218h0M1120 1218h0M1117 1220h0M1113 1226h0M1123 1223h0M1123 1223h0M1120 1231h0M1122 1230h0M1125 1233h0M1123 1235h0M1081 1238h0M1088 1237h0M1087 1238h0M1091 1236h0M1091 1236h0M1088 1241h0M1089 1236h0M1135 1216h0M1138 1216h0M1137 1220h0M1136 1219h0M1178 1203h0M1180 1196h0M1182 1195h0M1182 1199h0M1183 1199h0M1185 1203h0M1191 1198h0M1191 1200h0M1193 1200h0M1196 1200h0M1198 1198h0M1199 1204h0M1176 1214h0M1178 1216h0M1180 1217h0M1184 1216h0M1186 1220h0M1189 1219h0M1191 1219h0M1190 1221h0M1195 1220h0M1196 1225h0M1198 1225h0M1200 1227h0M1202 1225h0M1203 1227h0M1208 1222h0M1208 1225h0M1212 1221h0M1211 1230h0M1214 1230h0M1215 1234h0M1221 1228h0M1221 1231h0M1224 1229h0M1226 1241h0M1215 1233h0M1220 1241h0M1219 1244h0M1214 1240h0M1212 1247h0M1218 1246h0M1218 1249h0M1223 1250h0M1217 1255h0M1226 1253h0M1227 1254h0M1126 1244h0M1124 1246h0M1120 1252h0M1131 1255h0M1123 1255h0M1130 1257h0M1130 1258h0M1130 1262h0M1141 1251h0M1141 1250h0M1144 1250h0M1144 1256h0M1147 1256h0M1146 1261h0M1145 1265h0M1146 1264h0M1148 1263h0M1148 1269h0M1154 1265h0M1156 1273h0M1157 1269h0M1159 1263h0M1161 1266h0M1165 1271h0M1165 1275h0M1166 1270h0M1161 1257h0M1161 1254h0M1160 1253h0M1161 1252h0M1181 1254h0M1180 1258h0M1183 1258h0M1186 1266h0M1188 1259h0M1188 1264h0M1191 1265h0M1194 1265h0M1232 1253h0M1236 1249h0M1238 1252h0M1238 1250h0M1206 1267h0M1207 1269h0M1210 1271h0M1207 1275h0M1237 1268h0M1236 1269h0M1242 1265h0M1242 1268h0M1242 1275h0M1245 1268h0M1252 1269h0M1244 1275h0M1253 1276h0M1254 1276h0M1248 1281h0M1249 1283h0M1256 1286h0M1255 1286h0M1255 1292h0M1255 1294h0M1254 1294h0M1208 1288h0M1212 1288h0M1211 1287h0M1213 1289h0M1217 1283h0M1215 1291h0M1214 1293h0M1220 1295h0M1222 1296h0M1216 1293h0M1225 1296h0M1222 1293h0M1223 1292h0M1218 1285h0M1223 1287h0M1228 1282h0M1229 1282h0M1232 1287h0M1235 1287h0M1236 1286h0M1132 1276h0M1135 1277h0M1141 1277h0M1140 1280h0M1138 1284h0M1143 1289h0M1138 1289h0M1138 1289h0M1133 1290h0M1134 1290h0M1134 1285h0M1132 1286h0M1130 1289h0M1147 1290h0M1140 1291h0M1148 1293h0M1143 1296h0M1143 1299h0M1148 1297h0M1150 1298h0M1150 1302h0M1157 1289h0M1159 1287h0M1162 1284h0M1162 1285h0M1167 1290h0M1172 1285h0M1170 1286h0M1176 1288h0M1172 1294h0M1169 1294h0M1171 1299h0M1165 1295h0M1173 1302h0M1169 1300h0M1172 1304h0M1172 1309h0M1176 1304h0M1179 1300h0M1182 1306h0M1181 1311h0M1182 1315h0M1188 1309h0M1190 1312h0M1187 1317h0M1195 1315h0M1196 1319h0M1197 1315h0M1199 1312h0M1202 1315h0M1202 1311h0M1209 1312h0M1209 1309h0M1206 1306h0M1211 1306h0M1212 1310h0M1210 1313h0M1215 1312h0M1212 1316h0M1209 1319h0M1214 1322h0M1214 1322h0M1118 1304h0M1121 1303h0M1121 1300h0M1127 1306h0M1126 1306h0M1129 1304h0M1133 1303h0M1135 1305h0M1135 1315h0M1139 1314h0M1138 1315h0M1139 1317h0M1136 1314h0M1097 1318h0M1099 1323h0M1100 1316h0M1104 1320h0M1102 1317h0M1107 1312h0M1109 1323h0M1113 1322h0M1112 1317h0M1088 1326h0M1083 1334h0M1087 1334h0M1091 1335h0M1087 1335h0M1085 1340h0M1080 1336h0M1078 1338h0M1080 1344h0M1081 1347h0M1072 1343h0M1074 1349h0M1079 1345h0M1076 1352h0M1081 1349h0M1082 1353h0M1087 1352h0M1087 1350h0M1090 1353h0M1093 1351h0M1095 1348h0M1097 1342h0M1099 1344h0M1095 1338h0M1103 1344h0M1099 1338h0M1101 1335h0M1105 1340h0M1116 1330h0M1114 1333h0M1116 1328h0M1117 1329h0M1069 1356h0M1070 1355h0M1073 1354h0M1073 1357h0M1083 1359h0M1088 1356h0M1087 1358h0M1088 1365h0M1091 1361h0M1115 1352h0M1111 1352h0M1116 1355h0M1108 1357h0M1117 1357h0M1115 1362h0M1133 1324h0M1138 1320h0M1139 1321h0M1142 1326h0M1145 1325h0M1146 1318h0M1149 1320h0M1148 1325h0M1150 1330h0M1154 1325h0M1157 1328h0M1160 1320h0M1159 1327h0M1161 1331h0M1163 1329h0M1166 1326h0M1169 1327h0M1172 1325h0M1170 1334h0M1175 1335h0M1176 1335h0M1176 1338h0M1179 1335h0M1184 1333h0M1188 1332h0M1187 1337h0M1189 1340h0M1193 1336h0M1190 1340h0M1196 1338h0M1194 1345h0M1199 1341h0M1189 1345h0M1178 1346h0M1182 1356h0M1179 1352h0M1179 1357h0M1179 1357h0M1176 1352h0M1171 1360h0M1170 1354h0M1170 1350h0M1164 1359h0M1164 1356h0M1158 1356h0M1164 1356h0M1158 1359h0M1158 1361h0M1201 1334h0M1202 1336h0M1210 1338h0M1201 1344h0M1199 1344h0M1201 1349h0M1206 1351h0M1204 1355h0M1203 1354h0M1206 1355h0M1210 1359h0M1202 1362h0M1206 1364h0M1209 1365h0M1207 1365h0M1206 1368h0M1203 1374h0M1207 1374h0M1207 1373h0M1213 1371h0M1210 1380h0M1218 1376h0M1214 1383h0M1219 1381h0M1220 1379h0M1219 1387h0M1224 1386h0M1229 1383h0M1222 1330h0M1221 1332h0M1219 1337h0M1218 1339h0M1222 1341h0M1223 1343h0M1222 1346h0M1226 1344h0M1223 1352h0M1224 1353h0M1232 1347h0M1231 1349h0M1230 1359h0M1235 1353h0M1237 1354h0M1239 1357h0M1240 1356h0M1244 1354h0M1245 1360h0M1250 1357h0M1250 1364h0M1249 1354h0M1256 1360h0M1256 1354h0M1257 1356h0M1261 1355h0M1260 1354h0M1262 1351h0M1270 1352h0M1262 1346h0M1265 1345h0M1264 1342h0M1270 1344h0M1272 1341h0M1269 1337h0M1272 1335h0M1271 1328h0M1274 1337h0M1277 1337h0M1282 1336h0M1283 1334h0M1246 1328h0M1248 1333h0M1252 1332h0M1254 1326h0M1257 1323h0M1259 1333h0M1260 1328h0M1230 1316h0M1227 1318h0M1230 1316h0M1229 1313h0M1227 1317h0M1150 1366h0M1147 1370h0M1149 1367h0M1151 1370h0M1163 1379h0M1164 1373h0M1166 1366h0M1168 1373h0M1169 1367h0M1175 1367h0M1176 1373h0M1175 1375h0M1179 1375h0M1176 1381h0M1176 1380h0M1180 1384h0M1183 1385h0M1182 1387h0M1178 1392h0M1184 1390h0M1189 1392h0M1186 1397h0M1183 1398h0M1187 1398h0M1181 1399h0M1181 1404h0M1180 1405h0M1177 1404h0M1180 1409h0M1181 1412h0M1179 1416h0M1176 1413h0M1175 1413h0M1171 1410h0M1167 1413h0M1170 1405h0M1157 1400h0M1151 1398h0M1152 1395h0M1152 1395h0M1195 1380h0M1194 1384h0M1189 1386h0M1192 1389h0M1195 1388h0M1197 1393h0M1197 1395h0M1195 1398h0M1194 1400h0M1195 1401h0M1206 1398h0M1199 1405h0M1203 1406h0M1211 1394h0M1214 1396h0M1213 1406h0M1215 1401h0M1198 1376h0M1203 1377h0M1205 1371h0M1207 1376h0M1208 1378h0M1209 1381h0M1212 1370h0M1213 1382h0M1216 1378h0M1222 1380h0M1219 1382h0M1222 1384h0" stroke="#00ff10" stroke-width="6.6" stroke-linecap="square" fill="none"/>

<path d="M1297 854h0M1296 865h0M1288 878h0M1316 869h0M1317 881h0M1316 892h0M1283 901h0M1288 904h0M1290 918h0M1290 922h0M1300 930h0M1299 936h0M1282 909h0M1190 926h0M1177 950h0M1190 949h0M1194 944h0M1205 935h0M1211 930h0M1222 929h0M1233 919h0M1245 923h0M1218 943h0M1231 941h0M1249 936h0M1261 934h0M1169 967h0M1181 962h0M1187 955h0M1201 962h0M1210 969h0M1187 961h0M1219 956h0M1273 950h0M1307 949h0M1317 954h0M1328 949h0M1334 957h0M1310 956h0M1321 958h0M1285 967h0M1278 966h0M1266 971h0M1259 978h0M1251 987h0M1273 985h0M1282 993h0M1285 992h0M1294 996h0M1310 999h0M1313 1008h0M1299 978h0M1341 973h0M1330 1001h0M1346 990h0M1357 991h0M1365 987h0M1379 993h0M1379 973h0M1356 961h0M1331 927h0M1344 920h0M1356 925h0M1359 937h0M1356 910h0M1375 932h0M1332 902h0M1337 890h0M1350 889h0M1356 880h0M1359 886h0M1369 885h0M1355 899h0M1367 899h0M1378 902h0M1380 914h0M1389 916h0M1398 917h0M1401 927h0M1403 884h0M1400 892h0M1418 904h0M1415 911h0M1391 967h0M1405 966h0M1412 960h0M1420 954h0M1430 956h0M1424 968h0M1407 984h0M1441 932h0M1449 930h0M1462 920h0M1439 916h0M1440 920h0M1445 891h0M1448 899h0M1460 897h0M1442 891h0M1418 857h0M1436 842h0M1447 842h0M1457 840h0M1449 831h0M1440 852h0M1452 855h0M1461 863h0M1466 860h0M1451 870h0M1468 834h0M1484 827h0M1482 839h0M1498 841h0M1505 833h0M1512 825h0M1500 834h0M1503 843h0M1501 855h0M1499 862h0M1524 841h0M1533 845h0M1481 847h0M1487 858h0M1490 871h0M1500 877h0M1509 874h0M1521 871h0M1528 870h0M1518 864h0M1489 895h0M1488 900h0M1497 895h0M1505 895h0M1514 905h0M1524 898h0M1516 915h0M1505 921h0M1495 923h0M1537 890h0M1549 895h0M1540 911h0M1554 868h0M1563 880h0M1572 855h0M1586 862h0M1595 857h0M1606 859h0M1601 867h0M1597 866h0M1584 869h0M1576 877h0M1326 1028h0M1337 1023h0M1321 1048h0M1352 1034h0M1363 1030h0M1366 1019h0M1385 1020h0M1391 1020h0M1385 1026h0M1386 1041h0M1383 1049h0M1386 1059h0M1347 1069h0M1358 1074h0M1367 1072h0M1380 1073h0M1383 1084h0M1395 1076h0M1407 1084h0M1416 1091h0M1427 1083h0M1342 1083h0M1349 1089h0M1385 1055h0M1384 1056h0M1393 1065h0M1395 1098h0M1405 1106h0M1411 1113h0M1419 1096h0M1430 1108h0M1433 1128h0M1417 1128h0M1413 1140h0M1361 1158h0M1368 1166h0M1369 1177h0M1381 1171h0M1393 1176h0M1401 1168h0M1410 1159h0M1404 1149h0M1381 1158h0M1388 1152h0M1366 1189h0M1379 1201h0M1396 1210h0M1420 1165h0M1437 1155h0M1451 1155h0M1459 1164h0M1466 1170h0M1478 1174h0M1487 1176h0M1495 1182h0M1505 1192h0M1501 1205h0M1505 1208h0M1431 1169h0M1431 1183h0M1423 1191h0M1422 1205h0M1417 1214h0M1406 1219h0M1411 1230h0M1423 1231h0M1428 1245h0M1430 1256h0M1430 1256h0M1443 1263h0M1441 1201h0M1432 1213h0M1442 1238h0M1456 1244h0M1454 1171h0M1481 1181h0M1484 1190h0M1459 1149h0M1479 1150h0M1480 1158h0M1472 1223h0M1487 1215h0M1488 1234h0M1497 1232h0M1505 1219h0M1467 1253h0M1476 1245h0M1487 1243h0M1500 1238h0M1502 1251h0M1516 1252h0M1512 1268h0M1496 1265h0M1504 1263h0M1478 1101h0M1480 1109h0M1492 1117h0M1501 1118h0M1493 1115h0M1486 1126h0M1506 1135h0M1521 1152h0M1533 1145h0M1540 1152h0M1546 1164h0M1532 1176h0M1544 1177h0M1549 1167h0M1562 1169h0M1575 1165h0M1584 1161h0M1543 1189h0M1550 1191h0M1559 1155h0M1591 1181h0M1602 1176h0M1613 1175h0M1620 1165h0M1636 1166h0M1636 1180h0M1632 1186h0M1626 1198h0M1601 1190h0M1645 1173h0M1596 1142h0M1609 1125h0M1623 1127h0M1632 1120h0M1621 1143h0M1633 1145h0M1653 1143h0M1662 1150h0M1670 1151h0M1665 1139h0M1658 1155h0M1686 1146h0M1690 1142h0M1699 1136h0M1698 1124h0M1701 1114h0M1704 1114h0M1713 1114h0M1715 1127h0M1722 1124h0M1733 1121h0M1718 1136h0" stroke="#ff0000" stroke-opacity="0.5" stroke-width="6.6" stroke-linecap="square" fill="none"/><path d="M1298 843h0M1299 846h0M1303 846h0M1301 847h0M1303 848h0M1293 854h0M1302 859h0M1297 858h0M1298 861h0M1301 864h0M1308 853h0M1306 862h0M1285 875h0M1287 876h0M1286 876h0M1291 879h0M1308 862h0M1310 867h0M1310 870h0M1310 872h0M1317 872h0M1317 873h0M1317 877h0M1318 877h0M1324 876h0M1323 884h0M1318 885h0M1320 888h0M1313 886h0M1312 886h0M1309 893h0M1311 895h0M1316 897h0M1318 901h0M1289 891h0M1293 893h0M1293 895h0M1288 901h0M1294 901h0M1290 903h0M1291 909h0M1287 908h0M1293 911h0M1292 914h0M1293 914h0M1282 914h0M1282 919h0M1287 921h0M1288 921h0M1287 925h0M1290 929h0M1294 920h0M1292 931h0M1295 929h0M1297 931h0M1304 927h0M1306 927h0M1307 931h0M1299 931h0M1301 934h0M1297 934h0M1298 939h0M1280 913h0M1280 912h0M1276 912h0M1277 909h0M1188 925h0M1190 928h0M1189 930h0M1187 929h0M1171 940h0M1170 945h0M1176 942h0M1177 943h0M1180 946h0M1183 944h0M1183 948h0M1185 947h0M1186 946h0M1189 951h0M1191 950h0M1195 946h0M1196 950h0M1194 946h0M1195 945h0M1201 945h0M1200 940h0M1199 939h0M1199 934h0M1200 934h0M1205 937h0M1206 934h0M1205 931h0M1208 930h0M1211 931h0M1216 933h0M1212 922h0M1217 927h0M1220 928h0M1222 929h0M1225 927h0M1224 921h0M1226 922h0M1228 918h0M1229 919h0M1236 927h0M1235 920h0M1238 926h0M1239 917h0M1239 918h0M1246 921h0M1245 914h0M1247 915h0M1249 920h0M1224 936h0M1219 943h0M1226 940h0M1230 943h0M1224 947h0M1226 952h0M1230 950h0M1237 943h0M1241 934h0M1240 943h0M1246 940h0M1251 937h0M1263 933h0M1264 931h0M1265 934h0M1265 932h0M1284 936h0M1280 937h0M1278 933h0M1279 934h0M1284 936h0M1170 965h0M1173 967h0M1176 968h0M1179 966h0M1181 973h0M1180 962h0M1184 965h0M1186 967h0M1187 964h0M1190 964h0M1194 957h0M1194 957h0M1198 960h0M1198 960h0M1202 961h0M1199 970h0M1202 971h0M1203 965h0M1207 964h0M1204 972h0M1213 970h0M1210 971h0M1216 974h0M1188 952h0M1191 953h0M1192 959h0M1220 960h0M1220 955h0M1219 959h0M1221 956h0M1232 972h0M1231 972h0M1235 974h0M1234 974h0M1232 974h0M1275 948h0M1277 953h0M1276 950h0M1273 949h0M1304 946h0M1308 950h0M1309 945h0M1314 948h0M1313 948h0M1315 948h0M1319 948h0M1319 948h0M1321 945h0M1324 949h0M1327 946h0M1331 948h0M1333 948h0M1331 952h0M1337 948h0M1333 953h0M1338 955h0M1342 956h0M1341 960h0M1340 961h0M1342 963h0M1313 962h0M1316 952h0M1315 955h0M1319 953h0M1322 958h0M1288 956h0M1289 958h0M1295 963h0M1290 963h0M1294 968h0M1286 963h0M1284 967h0M1282 968h0M1283 973h0M1281 968h0M1277 973h0M1274 968h0M1274 971h0M1272 977h0M1270 971h0M1266 972h0M1268 976h0M1267 981h0M1262 975h0M1262 981h0M1257 981h0M1256 977h0M1257 986h0M1251 981h0M1253 987h0M1249 988h0M1245 983h0M1246 989h0M1276 981h0M1274 982h0M1274 987h0M1282 986h0M1275 989h0M1281 990h0M1281 990h0M1277 996h0M1278 996h0M1274 1001h0M1281 1000h0M1285 992h0M1290 988h0M1293 988h0M1289 995h0M1291 995h0M1295 994h0M1297 998h0M1300 995h0M1305 993h0M1301 1002h0M1303 1001h0M1302 1004h0M1306 1004h0M1306 1008h0M1313 1007h0M1308 1010h0M1309 1015h0M1294 978h0M1295 979h0M1294 979h0M1297 977h0M1322 983h0M1327 985h0M1327 986h0M1343 975h0M1345 975h0M1343 976h0M1344 976h0M1331 1003h0M1330 1001h0M1330 1005h0M1331 1002h0M1341 989h0M1342 993h0M1343 997h0M1345 994h0M1352 988h0M1352 990h0M1352 993h0M1354 992h0M1354 998h0M1359 997h0M1361 992h0M1363 989h0M1364 993h0M1363 989h0M1367 988h0M1367 986h0M1374 990h0M1371 993h0M1374 994h0M1376 995h0M1377 996h0M1378 1001h0M1378 1003h0M1373 973h0M1374 976h0M1369 979h0M1379 979h0M1343 1003h0M1342 1005h0M1358 957h0M1360 958h0M1360 960h0M1361 957h0M1330 923h0M1326 923h0M1331 925h0M1328 926h0M1344 916h0M1344 916h0M1352 915h0M1352 917h0M1353 919h0M1355 919h0M1350 926h0M1356 928h0M1362 927h0M1354 931h0M1359 931h0M1357 933h0M1358 938h0M1364 937h0M1347 911h0M1352 907h0M1350 913h0M1355 911h0M1357 915h0M1362 912h0M1359 919h0M1370 933h0M1376 931h0M1325 900h0M1327 899h0M1330 901h0M1332 903h0M1332 898h0M1334 896h0M1336 892h0M1338 896h0M1342 899h0M1342 892h0M1343 892h0M1348 893h0M1346 887h0M1348 889h0M1352 887h0M1351 882h0M1353 884h0M1354 882h0M1354 884h0M1358 879h0M1362 886h0M1361 881h0M1360 883h0M1367 880h0M1367 885h0M1365 889h0M1372 886h0M1369 892h0M1372 895h0M1371 886h0M1372 883h0M1379 893h0M1380 888h0M1380 889h0M1358 901h0M1360 901h0M1359 900h0M1363 905h0M1364 900h0M1368 903h0M1370 904h0M1373 896h0M1373 897h0M1375 902h0M1379 903h0M1378 907h0M1379 908h0M1378 909h0M1376 913h0M1381 913h0M1386 912h0M1386 916h0M1385 919h0M1383 921h0M1389 921h0M1390 919h0M1391 928h0M1394 922h0M1395 915h0M1396 916h0M1402 924h0M1406 920h0M1407 921h0M1401 930h0M1404 931h0M1406 931h0M1401 932h0M1397 885h0M1398 889h0M1405 879h0M1407 881h0M1401 885h0M1403 888h0M1410 890h0M1405 895h0M1417 896h0M1416 896h0M1415 898h0M1421 900h0M1420 906h0M1420 908h0M1414 902h0M1416 909h0M1415 911h0M1420 875h0M1419 873h0M1417 875h0M1417 871h0M1418 875h0M1399 973h0M1396 965h0M1401 970h0M1402 968h0M1402 965h0M1402 960h0M1409 966h0M1410 964h0M1411 961h0M1409 955h0M1417 960h0M1418 962h0M1417 954h0M1418 952h0M1418 949h0M1427 955h0M1426 951h0M1424 953h0M1431 954h0M1430 955h0M1429 959h0M1424 963h0M1422 966h0M1427 964h0M1424 969h0M1424 970h0M1434 970h0M1401 982h0M1403 982h0M1405 983h0M1432 940h0M1437 939h0M1434 937h0M1439 936h0M1439 936h0M1440 928h0M1444 932h0M1441 929h0M1444 928h0M1445 923h0M1451 930h0M1454 927h0M1454 927h0M1456 930h0M1460 929h0M1432 925h0M1427 916h0M1429 913h0M1431 913h0M1432 912h0M1429 907h0M1445 922h0M1443 918h0M1445 919h0M1444 920h0M1438 882h0M1438 888h0M1441 885h0M1438 888h0M1442 891h0M1445 892h0M1445 895h0M1442 896h0M1452 892h0M1453 894h0M1453 896h0M1454 899h0M1455 897h0M1458 898h0M1460 901h0M1464 896h0M1464 897h0M1469 897h0M1441 893h0M1441 892h0M1450 892h0M1446 887h0M1446 887h0M1418 851h0M1415 852h0M1421 852h0M1429 840h0M1435 835h0M1430 844h0M1440 835h0M1440 839h0M1443 841h0M1445 838h0M1444 846h0M1446 845h0M1448 840h0M1449 840h0M1453 843h0M1454 835h0M1458 839h0M1460 837h0M1456 836h0M1455 835h0M1455 834h0M1453 832h0M1453 830h0M1437 859h0M1439 857h0M1441 858h0M1442 856h0M1443 849h0M1445 848h0M1450 850h0M1448 855h0M1452 857h0M1453 859h0M1453 855h0M1462 852h0M1453 862h0M1460 861h0M1461 864h0M1460 865h0M1462 863h0M1464 864h0M1467 861h0M1450 859h0M1445 865h0M1450 863h0M1455 863h0M1452 867h0M1458 868h0M1457 868h0M1461 869h0M1457 876h0M1458 876h0M1471 837h0M1470 836h0M1473 834h0M1469 832h0M1487 822h0M1482 828h0M1487 829h0M1487 831h0M1481 835h0M1491 834h0M1491 830h0M1490 837h0M1490 843h0M1493 843h0M1498 838h0M1499 840h0M1498 834h0M1502 837h0M1503 833h0M1506 839h0M1504 830h0M1509 830h0M1504 827h0M1512 829h0M1508 827h0M1515 825h0M1504 825h0M1503 830h0M1505 830h0M1500 834h0M1505 837h0M1507 837h0M1505 841h0M1507 838h0M1509 841h0M1500 845h0M1503 848h0M1506 848h0M1502 851h0M1504 853h0M1503 856h0M1506 860h0M1507 860h0M1500 858h0M1505 864h0M1517 832h0M1516 837h0M1518 839h0M1521 834h0M1521 841h0M1530 834h0M1528 839h0M1529 843h0M1532 843h0M1536 841h0M1538 840h0M1539 841h0M1540 842h0M1540 848h0M1543 845h0M1480 857h0M1482 855h0M1482 856h0M1485 856h0M1486 861h0M1490 858h0M1489 861h0M1494 858h0M1487 873h0M1488 873h0M1494 866h0M1492 874h0M1493 876h0M1497 873h0M1497 879h0M1501 875h0M1504 874h0M1505 875h0M1507 874h0M1510 879h0M1512 873h0M1511 870h0M1512 865h0M1515 868h0M1518 867h0M1520 862h0M1523 869h0M1522 871h0M1531 864h0M1523 872h0M1531 870h0M1512 860h0M1515 861h0M1514 863h0M1518 856h0M1470 879h0M1472 882h0M1470 884h0M1469 879h0M1473 885h0M1483 899h0M1484 900h0M1482 900h0M1487 904h0M1489 906h0M1487 898h0M1491 900h0M1491 900h0M1490 893h0M1495 896h0M1493 897h0M1498 893h0M1495 899h0M1497 898h0M1504 892h0M1503 899h0M1504 900h0M1507 906h0M1510 897h0M1510 901h0M1514 896h0M1514 895h0M1519 899h0M1519 895h0M1524 895h0M1525 901h0M1526 896h0M1516 908h0M1516 911h0M1508 908h0M1514 918h0M1510 916h0M1506 915h0M1507 917h0M1507 924h0M1503 922h0M1501 921h0M1500 924h0M1503 927h0M1501 929h0M1492 928h0M1510 885h0M1512 884h0M1512 884h0M1511 890h0M1539 889h0M1541 891h0M1544 889h0M1542 896h0M1548 894h0M1548 895h0M1554 896h0M1550 899h0M1539 911h0M1539 908h0M1540 907h0M1540 909h0M1550 862h0M1554 864h0M1546 868h0M1556 871h0M1552 872h0M1557 873h0M1560 876h0M1556 877h0M1554 881h0M1559 884h0M1568 856h0M1570 857h0M1571 861h0M1575 856h0M1575 854h0M1579 863h0M1580 856h0M1584 863h0M1587 860h0M1588 861h0M1590 858h0M1593 862h0M1594 858h0M1600 862h0M1600 861h0M1601 861h0M1607 856h0M1603 861h0M1610 861h0M1609 862h0M1608 867h0M1605 868h0M1609 870h0M1607 873h0M1598 869h0M1602 872h0M1599 871h0M1596 875h0M1595 879h0M1591 875h0M1591 879h0M1590 868h0M1587 873h0M1584 875h0M1581 871h0M1576 874h0M1565 873h0M1573 875h0M1572 880h0M1567 881h0M1570 882h0M1320 1028h0M1325 1031h0M1324 1020h0M1328 1020h0M1330 1027h0M1333 1020h0M1331 1029h0M1324 1038h0M1322 1039h0M1320 1042h0M1329 1042h0M1318 1045h0M1327 1049h0M1320 1053h0M1322 1054h0M1348 1032h0M1352 1037h0M1355 1034h0M1356 1027h0M1359 1033h0M1363 1036h0M1365 1033h0M1360 1026h0M1363 1026h0M1365 1028h0M1368 1025h0M1369 1024h0M1368 1016h0M1368 1016h0M1375 1022h0M1379 1019h0M1379 1024h0M1383 1025h0M1384 1018h0M1386 1016h0M1388 1021h0M1389 1026h0M1373 1034h0M1375 1033h0M1376 1032h0M1379 1031h0M1381 1035h0M1383 1038h0M1388 1031h0M1387 1039h0M1391 1039h0M1386 1039h0M1391 1043h0M1383 1044h0M1389 1047h0M1386 1046h0M1382 1047h0M1384 1055h0M1377 1057h0M1382 1055h0M1381 1057h0M1382 1059h0M1327 1061h0M1332 1062h0M1331 1063h0M1343 1065h0M1344 1069h0M1347 1072h0M1350 1067h0M1351 1072h0M1352 1069h0M1356 1064h0M1358 1075h0M1362 1072h0M1363 1072h0M1366 1069h0M1364 1071h0M1365 1077h0M1373 1069h0M1367 1079h0M1373 1076h0M1376 1073h0M1376 1080h0M1376 1081h0M1384 1075h0M1382 1078h0M1385 1079h0M1388 1084h0M1388 1086h0M1392 1079h0M1392 1085h0M1395 1080h0M1397 1082h0M1401 1082h0M1402 1083h0M1402 1088h0M1405 1081h0M1407 1086h0M1409 1088h0M1411 1090h0M1412 1092h0M1416 1084h0M1420 1091h0M1417 1084h0M1423 1087h0M1425 1087h0M1426 1091h0M1433 1087h0M1425 1077h0M1429 1082h0M1434 1081h0M1428 1075h0M1341 1086h0M1348 1081h0M1347 1085h0M1347 1090h0M1349 1086h0M1355 1087h0M1350 1093h0M1355 1092h0M1375 1054h0M1377 1054h0M1384 1058h0M1373 1058h0M1386 1059h0M1379 1059h0M1385 1065h0M1387 1061h0M1388 1058h0M1391 1057h0M1389 1058h0M1396 1060h0M1397 1062h0M1395 1089h0M1397 1089h0M1396 1093h0M1394 1097h0M1402 1096h0M1399 1099h0M1402 1102h0M1403 1101h0M1407 1100h0M1406 1106h0M1409 1105h0M1408 1107h0M1409 1108h0M1407 1114h0M1414 1112h0M1410 1099h0M1411 1102h0M1415 1097h0M1417 1100h0M1419 1096h0M1423 1101h0M1419 1095h0M1425 1099h0M1424 1091h0M1426 1113h0M1428 1111h0M1426 1113h0M1428 1113h0M1433 1124h0M1424 1124h0M1431 1130h0M1430 1132h0M1426 1132h0M1427 1135h0M1419 1131h0M1422 1139h0M1415 1134h0M1415 1138h0M1413 1135h0M1420 1142h0M1412 1145h0M1417 1146h0M1414 1148h0M1419 1149h0M1366 1155h0M1360 1160h0M1361 1165h0M1364 1162h0M1362 1164h0M1358 1166h0M1363 1169h0M1366 1172h0M1365 1174h0M1368 1175h0M1370 1174h0M1369 1181h0M1375 1180h0M1376 1172h0M1378 1171h0M1383 1179h0M1386 1180h0M1387 1175h0M1386 1170h0M1387 1169h0M1395 1177h0M1397 1174h0M1398 1173h0M1400 1176h0M1401 1174h0M1401 1166h0M1402 1166h0M1407 1167h0M1408 1166h0M1408 1163h0M1405 1159h0M1402 1158h0M1399 1158h0M1409 1154h0M1403 1152h0M1404 1150h0M1407 1147h0M1377 1158h0M1378 1147h0M1380 1153h0M1387 1152h0M1386 1156h0M1385 1163h0M1392 1158h0M1389 1156h0M1396 1155h0M1397 1155h0M1375 1181h0M1371 1185h0M1369 1188h0M1378 1190h0M1369 1193h0M1372 1194h0M1376 1192h0M1377 1189h0M1379 1200h0M1381 1195h0M1383 1195h0M1396 1203h0M1395 1208h0M1401 1187h0M1406 1193h0M1407 1192h0M1406 1185h0M1409 1188h0M1412 1167h0M1421 1168h0M1432 1154h0M1434 1155h0M1435 1157h0M1441 1163h0M1440 1156h0M1444 1158h0M1446 1156h0M1444 1162h0M1451 1156h0M1449 1163h0M1453 1162h0M1453 1165h0M1457 1166h0M1461 1162h0M1459 1167h0M1466 1162h0M1463 1169h0M1467 1168h0M1469 1172h0M1471 1171h0M1472 1173h0M1476 1168h0M1475 1175h0M1480 1177h0M1479 1175h0M1485 1169h0M1486 1171h0M1486 1175h0M1487 1179h0M1497 1173h0M1495 1175h0M1493 1180h0M1496 1179h0M1497 1185h0M1503 1183h0M1497 1188h0M1494 1190h0M1503 1188h0M1505 1196h0M1497 1193h0M1494 1194h0M1504 1200h0M1505 1203h0M1502 1200h0M1501 1205h0M1496 1208h0M1503 1210h0M1501 1210h0M1505 1214h0M1510 1207h0M1510 1210h0M1511 1211h0M1514 1214h0M1433 1173h0M1438 1176h0M1431 1177h0M1434 1180h0M1432 1182h0M1431 1187h0M1436 1190h0M1427 1187h0M1427 1188h0M1423 1192h0M1425 1196h0M1422 1197h0M1427 1199h0M1422 1199h0M1420 1201h0M1424 1206h0M1416 1206h0M1415 1207h0M1423 1213h0M1413 1209h0M1415 1214h0M1415 1219h0M1409 1214h0M1410 1213h0M1408 1216h0M1411 1221h0M1405 1225h0M1405 1225h0M1410 1227h0M1415 1227h0M1412 1232h0M1414 1229h0M1418 1226h0M1418 1231h0M1419 1238h0M1421 1236h0M1426 1236h0M1424 1237h0M1419 1242h0M1425 1245h0M1425 1245h0M1429 1249h0M1426 1248h0M1425 1251h0M1426 1253h0M1422 1258h0M1423 1257h0M1427 1256h0M1427 1260h0M1428 1263h0M1434 1260h0M1432 1266h0M1437 1261h0M1438 1264h0M1439 1255h0M1442 1258h0M1445 1269h0M1446 1268h0M1437 1199h0M1436 1202h0M1441 1206h0M1435 1208h0M1439 1207h0M1445 1211h0M1435 1211h0M1442 1218h0M1432 1217h0M1439 1220h0M1444 1234h0M1441 1236h0M1447 1238h0M1447 1241h0M1448 1239h0M1449 1244h0M1454 1244h0M1443 1179h0M1446 1181h0M1447 1176h0M1449 1174h0M1451 1179h0M1455 1170h0M1452 1176h0M1460 1177h0M1468 1185h0M1475 1180h0M1479 1183h0M1472 1190h0M1482 1187h0M1482 1187h0M1482 1186h0M1484 1193h0M1486 1194h0M1487 1196h0M1458 1148h0M1458 1150h0M1461 1150h0M1461 1146h0M1480 1151h0M1482 1151h0M1481 1149h0M1484 1150h0M1474 1157h0M1477 1162h0M1475 1158h0M1479 1159h0M1466 1215h0M1475 1218h0M1466 1219h0M1471 1221h0M1470 1222h0M1470 1226h0M1471 1227h0M1469 1229h0M1460 1228h0M1482 1219h0M1488 1220h0M1486 1218h0M1487 1218h0M1481 1225h0M1483 1225h0M1490 1232h0M1490 1234h0M1492 1234h0M1493 1228h0M1492 1223h0M1498 1224h0M1501 1228h0M1499 1222h0M1505 1229h0M1504 1222h0M1464 1263h0M1461 1254h0M1464 1254h0M1466 1255h0M1464 1254h0M1467 1248h0M1473 1253h0M1471 1248h0M1476 1254h0M1476 1247h0M1479 1244h0M1481 1245h0M1482 1244h0M1485 1242h0M1489 1246h0M1489 1240h0M1494 1244h0M1493 1242h0M1496 1246h0M1495 1236h0M1504 1239h0M1504 1240h0M1506 1243h0M1499 1248h0M1506 1246h0M1503 1250h0M1505 1255h0M1507 1254h0M1513 1252h0M1512 1254h0M1507 1261h0M1509 1261h0M1510 1264h0M1509 1263h0M1506 1267h0M1486 1264h0M1490 1256h0M1490 1264h0M1493 1259h0M1495 1260h0M1497 1270h0M1500 1264h0M1503 1264h0M1503 1259h0M1504 1261h0M1508 1260h0M1474 1110h0M1476 1107h0M1476 1106h0M1475 1100h0M1479 1097h0M1482 1098h0M1479 1101h0M1490 1101h0M1482 1106h0M1488 1109h0M1489 1111h0M1490 1109h0M1488 1108h0M1490 1109h0M1494 1114h0M1495 1110h0M1497 1111h0M1497 1112h0M1502 1112h0M1499 1111h0M1500 1115h0M1500 1114h0M1502 1122h0M1498 1120h0M1497 1127h0M1491 1121h0M1489 1118h0M1493 1129h0M1489 1125h0M1491 1134h0M1496 1133h0M1500 1132h0M1501 1134h0M1501 1138h0M1511 1134h0M1504 1140h0M1513 1151h0M1515 1150h0M1517 1152h0M1515 1155h0M1534 1145h0M1534 1142h0M1529 1142h0M1532 1143h0M1530 1157h0M1529 1159h0M1534 1153h0M1533 1160h0M1535 1159h0M1542 1156h0M1544 1158h0M1543 1160h0M1547 1160h0M1549 1159h0M1525 1173h0M1524 1177h0M1528 1175h0M1531 1176h0M1533 1174h0M1535 1175h0M1536 1182h0M1537 1176h0M1538 1170h0M1543 1174h0M1542 1172h0M1543 1168h0M1547 1166h0M1547 1169h0M1553 1172h0M1552 1167h0M1556 1162h0M1556 1166h0M1559 1165h0M1560 1169h0M1566 1169h0M1565 1165h0M1567 1167h0M1568 1162h0M1571 1164h0M1574 1160h0M1577 1163h0M1578 1166h0M1579 1158h0M1582 1164h0M1586 1167h0M1589 1164h0M1538 1190h0M1541 1187h0M1544 1189h0M1541 1194h0M1546 1191h0M1542 1189h0M1545 1190h0M1544 1189h0M1551 1195h0M1557 1193h0M1559 1153h0M1562 1157h0M1564 1153h0M1562 1157h0M1583 1179h0M1587 1182h0M1589 1182h0M1590 1178h0M1593 1180h0M1595 1179h0M1594 1175h0M1596 1172h0M1597 1168h0M1604 1180h0M1601 1171h0M1604 1169h0M1606 1173h0M1609 1175h0M1614 1173h0M1614 1169h0M1615 1166h0M1616 1170h0M1618 1165h0M1625 1165h0M1626 1166h0M1626 1162h0M1628 1165h0M1630 1170h0M1633 1167h0M1633 1171h0M1630 1172h0M1636 1174h0M1630 1175h0M1637 1178h0M1628 1180h0M1630 1182h0M1627 1185h0M1629 1186h0M1632 1191h0M1633 1194h0M1629 1192h0M1629 1195h0M1620 1191h0M1624 1200h0M1619 1199h0M1595 1190h0M1594 1192h0M1596 1194h0M1608 1188h0M1603 1193h0M1645 1171h0M1643 1171h0M1645 1171h0M1641 1172h0M1597 1147h0M1594 1141h0M1594 1144h0M1593 1142h0M1604 1125h0M1603 1129h0M1606 1127h0M1606 1127h0M1610 1129h0M1613 1134h0M1613 1127h0M1616 1130h0M1619 1130h0M1620 1132h0M1623 1131h0M1625 1124h0M1628 1128h0M1629 1127h0M1630 1124h0M1637 1123h0M1635 1122h0M1639 1121h0M1629 1114h0M1632 1112h0M1622 1141h0M1623 1148h0M1626 1138h0M1629 1139h0M1631 1147h0M1636 1142h0M1635 1148h0M1640 1144h0M1647 1144h0M1650 1146h0M1651 1151h0M1656 1145h0M1657 1147h0M1657 1152h0M1658 1150h0M1660 1152h0M1664 1153h0M1666 1154h0M1672 1154h0M1672 1153h0M1671 1149h0M1667 1144h0M1672 1146h0M1670 1143h0M1677 1144h0M1670 1136h0M1665 1135h0M1664 1133h0M1652 1153h0M1657 1155h0M1658 1154h0M1661 1154h0M1680 1147h0M1681 1155h0M1686 1147h0M1685 1146h0M1689 1150h0M1686 1148h0M1695 1155h0M1690 1146h0M1701 1147h0M1692 1142h0M1692 1141h0M1697 1140h0M1694 1138h0M1695 1135h0M1705 1130h0M1699 1131h0M1693 1131h0M1693 1128h0M1691 1124h0M1693 1123h0M1693 1121h0M1695 1120h0M1704 1118h0M1695 1112h0M1699 1113h0M1701 1109h0M1698 1113h0M1702 1106h0M1704 1106h0M1708 1108h0M1709 1110h0M1705 1114h0M1707 1113h0M1716 1115h0M1714 1118h0M1706 1125h0M1714 1122h0M1719 1119h0M1722 1123h0M1719 1125h0M1718 1131h0M1721 1128h0M1720 1130h0M1726 1129h0M1728 1131h0M1729 1123h0M1729 1124h0M1733 1124h0M1736 1120h0M1737 1122h0M1709 1133h0M1712 1133h0M1713 1132h0" stroke="#ff0000" stroke-width="6.6" stroke-linecap="square" fill="none"/>

<path d="M1130 537h0M1135 534h0M1139 527h0M1148 527h0M1159 537h0M1122 548h0M1134 550h0M1137 558h0M1126 559h0M1129 551h0M1149 553h0M1154 562h0M1161 559h0M1175 552h0M1150 562h0M1177 528h0M1215 547h0M1225 554h0M1218 562h0M1182 555h0M1196 558h0M1181 573h0M1189 575h0M1195 585h0M1162 579h0M1175 592h0M1147 593h0M1159 602h0M1161 610h0M1204 580h0M1213 575h0M1224 578h0M1229 572h0M1203 594h0M1213 597h0M1223 601h0M1225 615h0M1217 624h0M1215 594h0M1228 589h0M1232 603h0M1190 616h0M1187 636h0M1197 634h0M1208 637h0M1192 637h0M1219 642h0M1247 596h0M1246 612h0M1270 578h0M1281 575h0M1290 582h0M1275 563h0M1286 569h0M1296 572h0M1269 593h0M1257 610h0M1280 604h0M1235 623h0M1251 624h0M1272 637h0M1288 634h0M1295 646h0M1232 654h0M1240 661h0M1247 671h0M1259 668h0M1271 673h0M1251 660h0M1263 666h0M1276 652h0M1279 665h0M1287 654h0M1310 584h0M1315 591h0M1324 598h0M1338 587h0M1345 586h0M1347 594h0M1364 593h0M1298 618h0M1310 623h0M1318 624h0M1328 617h0M1338 619h0M1315 635h0M1335 639h0M1352 614h0M1348 628h0M1386 607h0M1398 605h0M1405 615h0M1403 634h0M1412 642h0M1315 660h0M1327 654h0M1337 653h0M1346 648h0M1360 649h0M1369 652h0M1352 660h0M1381 657h0M1387 658h0M1395 658h0M1393 647h0M1388 672h0M1392 685h0M1369 688h0M1380 690h0M1390 692h0M1339 665h0M1294 679h0M1303 683h0M1306 687h0M1291 695h0M1409 626h0M1411 639h0M1497 565h0M1503 575h0M1481 587h0M1493 588h0M1487 598h0M1483 607h0M1475 618h0M1476 626h0M1493 633h0M1459 621h0M1463 625h0M1495 616h0M1469 642h0M1485 635h0M1491 646h0M1484 658h0M1493 663h0M1505 668h0M1498 673h0M1495 686h0M1507 687h0M1522 581h0M1532 579h0M1546 580h0M1510 601h0M1507 611h0M1532 594h0M1532 602h0M1535 614h0M1522 619h0M1512 632h0M1522 640h0M1535 638h0M1554 628h0M1540 645h0M1552 650h0M1564 653h0M1571 649h0M1578 646h0M1551 587h0M1564 594h0M1564 601h0M1562 609h0M1587 622h0M1580 634h0M1589 641h0M1598 638h0M1550 669h0M1560 674h0M1568 665h0M1572 671h0M1566 680h0M1582 657h0M1590 675h0M1603 674h0M1608 663h0M1619 665h0M1625 676h0M1603 572h0M1613 572h0M1621 570h0M1627 584h0M1637 586h0M1591 583h0M1601 603h0M1622 603h0M1636 605h0M1625 624h0M1618 634h0M1621 645h0M1631 637h0M1641 631h0M1653 627h0M1664 636h0M1667 636h0M1651 647h0M1652 562h0M1659 571h0M1668 567h0M1680 569h0M1692 565h0M1698 573h0M1681 577h0M1702 584h0M1714 588h0M1674 605h0M1680 597h0M1695 602h0M1686 612h0M1660 617h0M1667 624h0M1699 624h0M1710 624h0M1706 597h0M1708 606h0M1698 637h0M1693 647h0M1697 659h0M1686 669h0M1678 659h0M1679 648h0M1705 665h0M1703 584h0M1717 581h0M1704 600h0M1707 610h0M1711 617h0M1713 631h0M1695 632h0M1693 642h0M1692 653h0M1685 662h0M1703 663h0M798 271h0M804 280h0M814 287h0M827 283h0M839 277h0M810 287h0M820 286h0M861 276h0M876 278h0M882 271h0M831 294h0M834 301h0M849 311h0M835 308h0M853 291h0M864 301h0M868 311h0M876 319h0M878 302h0M887 294h0M897 300h0M908 298h0M916 288h0M923 284h0M912 290h0M923 287h0M938 286h0M908 312h0M916 315h0M927 325h0M939 324h0M948 337h0M946 350h0M913 318h0M918 336h0M947 304h0M946 312h0M940 327h0M946 333h0M1831 723h0M1838 722h0M1854 721h0M1834 743h0M1849 745h0M1857 750h0M1867 744h0M1877 751h0M1888 756h0M1827 744h0M1872 742h0M1832 769h0M1841 769h0M1853 769h0M1865 773h0M1842 777h0M1883 774h0M1895 767h0M1907 775h0M1920 767h0M1930 770h0M1889 780h0M1904 768h0M1916 767h0M1908 781h0M1918 778h0" stroke="#0000ff" stroke-opacity="0.5" stroke-width="6.6" stroke-linecap="square" fill="none"/><path d="M1120 534h0M1123 530h0M1126 529h0M1125 535h0M1130 531h0M1133 533h0M1134 542h0M1135 538h0M1137 542h0M1137 538h0M1143 537h0M1139 534h0M1139 531h0M1143 531h0M1140 527h0M1147 525h0M1144 520h0M1145 521h0M1151 526h0M1151 522h0M1148 529h0M1154 528h0M1155 529h0M1152 530h0M1161 532h0M1157 539h0M1114 543h0M1119 550h0M1120 545h0M1121 543h0M1126 550h0M1126 551h0M1127 542h0M1129 550h0M1132 548h0M1137 548h0M1136 548h0M1135 552h0M1134 554h0M1136 555h0M1135 556h0M1135 558h0M1133 556h0M1132 559h0M1128 555h0M1126 564h0M1124 564h0M1123 565h0M1118 563h0M1121 566h0M1131 552h0M1135 550h0M1133 551h0M1135 553h0M1144 555h0M1149 555h0M1147 558h0M1152 559h0M1155 554h0M1157 559h0M1158 561h0M1156 568h0M1163 561h0M1161 568h0M1162 565h0M1163 559h0M1163 560h0M1168 558h0M1169 559h0M1165 553h0M1164 551h0M1171 549h0M1173 547h0M1151 560h0M1151 562h0M1156 561h0M1152 567h0M1154 570h0M1155 572h0M1180 532h0M1176 526h0M1179 530h0M1179 530h0M1214 543h0M1213 548h0M1218 545h0M1217 550h0M1218 551h0M1222 547h0M1222 553h0M1229 550h0M1222 549h0M1221 551h0M1220 560h0M1218 558h0M1216 559h0M1214 557h0M1179 559h0M1181 565h0M1184 566h0M1184 556h0M1190 564h0M1192 559h0M1190 566h0M1194 556h0M1197 569h0M1196 568h0M1198 569h0M1182 573h0M1181 572h0M1177 574h0M1181 573h0M1194 568h0M1191 570h0M1195 572h0M1194 578h0M1198 577h0M1197 578h0M1202 580h0M1196 585h0M1191 586h0M1187 586h0M1194 593h0M1188 589h0M1160 580h0M1162 584h0M1164 586h0M1167 583h0M1181 588h0M1173 588h0M1179 594h0M1146 593h0M1145 591h0M1146 588h0M1153 596h0M1156 589h0M1151 597h0M1150 599h0M1157 597h0M1159 596h0M1161 601h0M1166 599h0M1159 604h0M1159 607h0M1164 609h0M1147 598h0M1148 601h0M1147 606h0M1147 608h0M1201 583h0M1208 585h0M1210 584h0M1211 582h0M1210 578h0M1215 582h0M1216 578h0M1216 572h0M1221 578h0M1222 569h0M1225 577h0M1229 575h0M1228 580h0M1230 578h0M1234 576h0M1233 582h0M1233 568h0M1235 561h0M1236 573h0M1237 571h0M1239 569h0M1203 594h0M1205 591h0M1211 602h0M1210 600h0M1214 597h0M1215 604h0M1218 602h0M1219 604h0M1224 597h0M1222 603h0M1221 607h0M1222 607h0M1229 607h0M1222 609h0M1229 610h0M1221 615h0M1220 613h0M1217 618h0M1220 620h0M1218 621h0M1214 625h0M1216 624h0M1216 629h0M1215 632h0M1204 602h0M1217 592h0M1218 592h0M1221 595h0M1221 590h0M1224 586h0M1228 596h0M1229 587h0M1229 589h0M1233 606h0M1232 604h0M1236 606h0M1234 603h0M1185 623h0M1186 622h0M1187 621h0M1203 620h0M1203 616h0M1202 621h0M1199 621h0M1199 619h0M1191 635h0M1192 638h0M1194 638h0M1195 642h0M1198 642h0M1200 632h0M1204 641h0M1206 640h0M1206 634h0M1207 635h0M1214 638h0M1212 641h0M1205 644h0M1204 644h0M1205 646h0M1193 647h0M1197 639h0M1199 639h0M1199 635h0M1202 638h0M1217 646h0M1222 642h0M1220 644h0M1219 645h0M1244 597h0M1249 590h0M1249 595h0M1253 595h0M1254 596h0M1256 595h0M1249 605h0M1261 579h0M1262 581h0M1263 579h0M1269 584h0M1271 586h0M1273 585h0M1275 583h0M1275 578h0M1280 586h0M1284 579h0M1282 582h0M1286 585h0M1287 585h0M1288 588h0M1291 587h0M1295 581h0M1292 587h0M1291 582h0M1296 583h0M1281 571h0M1280 564h0M1285 570h0M1281 562h0M1287 559h0M1288 567h0M1290 565h0M1292 567h0M1293 567h0M1295 567h0M1299 573h0M1296 573h0M1265 587h0M1268 586h0M1267 587h0M1270 595h0M1274 590h0M1275 589h0M1259 606h0M1261 607h0M1266 608h0M1266 611h0M1268 616h0M1269 615h0M1278 596h0M1284 600h0M1286 594h0M1288 594h0M1291 594h0M1289 601h0M1235 622h0M1238 623h0M1240 624h0M1240 624h0M1248 626h0M1265 622h0M1262 632h0M1266 630h0M1269 625h0M1270 624h0M1271 634h0M1275 627h0M1277 634h0M1281 635h0M1279 635h0M1286 636h0M1290 639h0M1288 645h0M1294 640h0M1292 643h0M1302 640h0M1224 651h0M1225 650h0M1226 657h0M1228 659h0M1228 664h0M1232 658h0M1232 665h0M1234 666h0M1240 659h0M1243 666h0M1244 664h0M1239 670h0M1244 670h0M1245 675h0M1249 672h0M1252 674h0M1252 668h0M1256 675h0M1257 673h0M1257 675h0M1263 667h0M1262 677h0M1267 675h0M1267 668h0M1270 668h0M1272 669h0M1275 672h0M1246 665h0M1251 666h0M1252 660h0M1254 658h0M1258 663h0M1262 657h0M1261 662h0M1265 660h0M1273 643h0M1267 647h0M1267 654h0M1278 649h0M1278 653h0M1276 656h0M1275 661h0M1273 661h0M1275 661h0M1281 665h0M1281 665h0M1285 661h0M1288 652h0M1286 653h0M1283 654h0M1286 652h0M1308 582h0M1307 585h0M1310 583h0M1326 578h0M1319 581h0M1318 584h0M1323 586h0M1316 590h0M1325 590h0M1323 592h0M1320 595h0M1323 595h0M1322 601h0M1330 599h0M1326 603h0M1334 603h0M1328 605h0M1330 607h0M1339 584h0M1343 588h0M1344 588h0M1346 585h0M1349 582h0M1354 585h0M1352 589h0M1351 585h0M1349 586h0M1346 585h0M1344 596h0M1344 596h0M1340 592h0M1338 589h0M1338 591h0M1372 588h0M1371 591h0M1294 628h0M1294 622h0M1293 619h0M1301 623h0M1298 618h0M1306 625h0M1303 617h0M1305 616h0M1310 618h0M1309 622h0M1316 616h0M1317 620h0M1318 621h0M1322 620h0M1320 628h0M1320 632h0M1327 626h0M1324 619h0M1328 620h0M1332 619h0M1331 622h0M1337 616h0M1334 625h0M1338 625h0M1342 622h0M1303 635h0M1312 629h0M1306 636h0M1311 640h0M1315 637h0M1335 643h0M1334 639h0M1333 644h0M1332 643h0M1344 610h0M1346 611h0M1350 618h0M1352 615h0M1355 606h0M1358 613h0M1360 613h0M1343 628h0M1348 627h0M1364 628h0M1364 628h0M1368 631h0M1368 629h0M1368 629h0M1385 605h0M1387 604h0M1390 602h0M1392 612h0M1394 610h0M1397 605h0M1399 613h0M1400 613h0M1402 613h0M1405 606h0M1411 607h0M1410 612h0M1409 619h0M1414 611h0M1404 632h0M1403 639h0M1406 632h0M1410 637h0M1409 643h0M1416 634h0M1417 642h0M1412 642h0M1411 642h0M1411 646h0M1408 644h0M1319 655h0M1320 653h0M1321 660h0M1324 657h0M1324 660h0M1331 661h0M1330 654h0M1334 661h0M1334 656h0M1338 660h0M1337 651h0M1342 658h0M1339 646h0M1341 648h0M1346 655h0M1348 651h0M1352 653h0M1353 644h0M1353 645h0M1358 648h0M1359 655h0M1362 646h0M1364 646h0M1365 650h0M1369 650h0M1375 648h0M1371 653h0M1377 648h0M1353 656h0M1347 662h0M1357 662h0M1371 655h0M1374 655h0M1377 657h0M1372 663h0M1378 664h0M1381 665h0M1385 661h0M1387 660h0M1386 660h0M1392 662h0M1392 663h0M1394 667h0M1392 659h0M1396 659h0M1397 655h0M1396 657h0M1394 653h0M1389 656h0M1389 653h0M1376 676h0M1377 673h0M1383 671h0M1378 680h0M1384 673h0M1386 680h0M1391 672h0M1389 681h0M1393 675h0M1396 678h0M1399 680h0M1394 685h0M1362 692h0M1368 686h0M1369 688h0M1372 689h0M1374 682h0M1375 686h0M1375 686h0M1378 696h0M1382 685h0M1383 695h0M1385 696h0M1387 687h0M1389 697h0M1392 693h0M1397 698h0M1395 692h0M1302 668h0M1308 671h0M1338 672h0M1340 673h0M1347 674h0M1344 678h0M1290 681h0M1291 685h0M1296 683h0M1298 684h0M1300 681h0M1300 683h0M1305 682h0M1305 689h0M1300 694h0M1305 694h0M1308 696h0M1303 692h0M1302 695h0M1300 689h0M1301 691h0M1296 692h0M1321 687h0M1321 691h0M1327 693h0M1408 618h0M1407 627h0M1408 625h0M1415 620h0M1413 627h0M1409 646h0M1412 636h0M1414 643h0M1488 568h0M1492 564h0M1493 562h0M1495 562h0M1499 563h0M1504 568h0M1500 572h0M1506 569h0M1501 573h0M1500 577h0M1501 578h0M1502 582h0M1502 582h0M1484 579h0M1486 582h0M1488 584h0M1488 587h0M1492 584h0M1493 584h0M1492 586h0M1491 592h0M1494 593h0M1491 594h0M1485 594h0M1492 604h0M1487 601h0M1487 605h0M1487 606h0M1481 606h0M1483 609h0M1482 611h0M1474 610h0M1477 612h0M1478 614h0M1476 619h0M1484 617h0M1476 622h0M1486 622h0M1482 623h0M1486 628h0M1483 628h0M1483 631h0M1484 633h0M1484 632h0M1470 594h0M1466 596h0M1453 616h0M1454 616h0M1461 620h0M1461 622h0M1452 623h0M1459 623h0M1456 631h0M1461 627h0M1463 629h0M1467 628h0M1468 631h0M1491 616h0M1496 618h0M1493 620h0M1491 615h0M1471 639h0M1470 641h0M1471 642h0M1467 641h0M1480 634h0M1481 634h0M1480 635h0M1484 636h0M1487 636h0M1487 641h0M1487 641h0M1489 644h0M1491 646h0M1496 645h0M1499 643h0M1499 648h0M1505 652h0M1502 655h0M1487 663h0M1490 664h0M1488 669h0M1491 658h0M1493 670h0M1497 664h0M1497 664h0M1501 665h0M1502 661h0M1503 668h0M1501 663h0M1509 668h0M1505 669h0M1502 670h0M1499 664h0M1495 667h0M1495 674h0M1491 667h0M1490 670h0M1487 668h0M1499 681h0M1503 680h0M1501 688h0M1501 689h0M1509 682h0M1528 685h0M1513 583h0M1518 589h0M1517 581h0M1521 577h0M1525 588h0M1525 579h0M1527 577h0M1530 583h0M1532 584h0M1534 575h0M1536 579h0M1542 586h0M1542 579h0M1543 579h0M1540 577h0M1551 576h0M1512 596h0M1508 601h0M1511 602h0M1511 604h0M1513 607h0M1508 608h0M1514 609h0M1512 610h0M1519 617h0M1515 618h0M1525 592h0M1529 589h0M1532 590h0M1536 591h0M1535 595h0M1538 597h0M1538 597h0M1535 603h0M1539 608h0M1541 609h0M1539 608h0M1530 613h0M1537 612h0M1535 616h0M1538 618h0M1540 619h0M1541 621h0M1533 624h0M1520 618h0M1524 615h0M1521 618h0M1523 619h0M1507 630h0M1508 636h0M1512 634h0M1509 641h0M1520 644h0M1521 642h0M1525 641h0M1525 639h0M1528 638h0M1531 638h0M1533 637h0M1533 634h0M1538 637h0M1539 640h0M1547 634h0M1549 632h0M1555 629h0M1531 645h0M1535 646h0M1536 651h0M1538 643h0M1542 647h0M1542 655h0M1548 647h0M1547 644h0M1550 650h0M1552 642h0M1553 650h0M1558 649h0M1560 646h0M1561 647h0M1562 653h0M1562 660h0M1569 660h0M1571 658h0M1568 650h0M1572 647h0M1578 656h0M1579 654h0M1577 650h0M1580 647h0M1545 595h0M1549 597h0M1547 592h0M1554 598h0M1554 591h0M1556 590h0M1557 596h0M1560 593h0M1562 597h0M1564 597h0M1561 596h0M1567 594h0M1566 599h0M1568 597h0M1567 600h0M1566 604h0M1566 604h0M1569 608h0M1565 609h0M1567 611h0M1557 605h0M1574 620h0M1578 617h0M1580 621h0M1578 624h0M1581 625h0M1585 626h0M1585 628h0M1584 628h0M1584 631h0M1579 635h0M1588 632h0M1590 634h0M1583 640h0M1587 639h0M1592 645h0M1591 638h0M1592 639h0M1593 640h0M1593 637h0M1604 641h0M1606 638h0M1600 632h0M1603 633h0M1606 632h0M1549 665h0M1552 666h0M1554 668h0M1555 668h0M1558 668h0M1561 672h0M1565 676h0M1565 675h0M1566 672h0M1566 662h0M1572 669h0M1573 670h0M1575 668h0M1578 672h0M1580 673h0M1575 675h0M1576 678h0M1572 672h0M1572 679h0M1572 682h0M1564 679h0M1561 685h0M1560 681h0M1562 676h0M1558 676h0M1585 658h0M1580 663h0M1584 674h0M1592 669h0M1589 671h0M1592 675h0M1594 671h0M1594 670h0M1598 672h0M1600 673h0M1603 671h0M1606 673h0M1604 668h0M1606 667h0M1612 669h0M1606 659h0M1607 660h0M1601 667h0M1620 663h0M1626 660h0M1625 664h0M1621 667h0M1625 670h0M1624 670h0M1619 673h0M1625 676h0M1596 565h0M1597 569h0M1601 566h0M1600 571h0M1601 578h0M1607 576h0M1606 566h0M1609 570h0M1611 574h0M1612 576h0M1614 563h0M1619 568h0M1619 569h0M1620 573h0M1623 573h0M1620 578h0M1629 573h0M1631 574h0M1624 581h0M1626 585h0M1632 579h0M1634 588h0M1635 582h0M1636 585h0M1643 584h0M1582 579h0M1585 580h0M1585 581h0M1588 583h0M1590 576h0M1597 614h0M1598 610h0M1600 610h0M1602 610h0M1604 605h0M1607 604h0M1608 605h0M1610 605h0M1611 604h0M1632 601h0M1629 602h0M1631 609h0M1632 606h0M1636 600h0M1634 609h0M1640 607h0M1642 608h0M1640 609h0M1624 623h0M1627 625h0M1628 615h0M1631 621h0M1617 629h0M1618 630h0M1619 635h0M1615 640h0M1622 638h0M1619 640h0M1620 641h0M1620 647h0M1629 644h0M1624 651h0M1631 649h0M1625 655h0M1635 630h0M1637 637h0M1639 636h0M1642 632h0M1640 632h0M1645 635h0M1647 628h0M1647 632h0M1649 629h0M1651 634h0M1655 630h0M1654 626h0M1662 631h0M1660 624h0M1666 625h0M1666 630h0M1667 628h0M1668 638h0M1677 633h0M1676 634h0M1666 637h0M1673 638h0M1645 643h0M1645 647h0M1645 649h0M1652 649h0M1663 647h0M1660 640h0M1649 564h0M1650 566h0M1652 567h0M1656 562h0M1653 570h0M1659 567h0M1661 563h0M1661 572h0M1662 575h0M1662 575h0M1668 577h0M1667 572h0M1671 565h0M1671 564h0M1674 566h0M1678 571h0M1678 565h0M1682 568h0M1684 565h0M1684 568h0M1688 573h0M1690 568h0M1693 561h0M1696 562h0M1697 566h0M1694 572h0M1697 570h0M1702 572h0M1697 577h0M1699 580h0M1680 573h0M1680 573h0M1685 572h0M1692 584h0M1697 587h0M1698 589h0M1700 587h0M1702 585h0M1704 587h0M1706 591h0M1708 582h0M1712 592h0M1713 585h0M1718 583h0M1717 581h0M1670 603h0M1671 606h0M1673 608h0M1672 602h0M1679 607h0M1680 603h0M1681 601h0M1683 598h0M1690 605h0M1688 600h0M1688 605h0M1690 603h0M1697 605h0M1696 606h0M1686 605h0M1691 612h0M1689 612h0M1685 612h0M1685 619h0M1683 612h0M1678 609h0M1661 615h0M1661 621h0M1664 617h0M1665 625h0M1666 617h0M1670 623h0M1673 620h0M1668 626h0M1675 624h0M1697 627h0M1698 629h0M1701 622h0M1702 627h0M1706 617h0M1707 624h0M1710 624h0M1712 623h0M1712 630h0M1711 627h0M1712 629h0M1717 630h0M1703 601h0M1702 602h0M1711 599h0M1707 605h0M1705 606h0M1706 609h0M1710 610h0M1710 611h0M1714 610h0M1717 614h0M1695 641h0M1693 644h0M1694 644h0M1695 646h0M1695 646h0M1696 650h0M1693 651h0M1698 655h0M1700 653h0M1700 661h0M1695 662h0M1689 656h0M1690 658h0M1688 660h0M1686 665h0M1682 665h0M1682 662h0M1679 664h0M1677 665h0M1676 664h0M1672 650h0M1673 652h0M1675 646h0M1679 651h0M1681 653h0M1684 655h0M1685 652h0M1707 662h0M1708 663h0M1709 662h0M1709 666h0M1694 587h0M1696 589h0M1698 586h0M1701 584h0M1703 586h0M1706 583h0M1708 585h0M1709 583h0M1710 579h0M1718 583h0M1718 586h0M1708 592h0M1705 595h0M1709 596h0M1702 599h0M1707 601h0M1704 604h0M1706 607h0M1699 608h0M1711 612h0M1710 612h0M1710 615h0M1703 618h0M1708 618h0M1713 614h0M1708 627h0M1718 621h0M1711 627h0M1711 628h0M1712 633h0M1693 627h0M1701 628h0M1695 629h0M1701 632h0M1697 635h0M1697 635h0M1695 640h0M1694 640h0M1698 643h0M1699 647h0M1692 648h0M1701 650h0M1692 651h0M1693 654h0M1689 654h0M1691 657h0M1689 657h0M1688 658h0M1685 663h0M1683 663h0M1678 656h0M1706 667h0M1703 666h0M1707 663h0M1705 665h0M789 268h0M791 270h0M791 273h0M794 272h0M797 273h0M799 275h0M797 280h0M800 277h0M802 282h0M804 284h0M810 279h0M810 281h0M811 276h0M815 273h0M818 276h0M820 277h0M821 276h0M823 281h0M826 284h0M830 281h0M831 274h0M832 275h0M834 277h0M838 280h0M841 280h0M840 287h0M803 283h0M804 282h0M806 287h0M812 288h0M811 283h0M816 287h0M815 287h0M818 285h0M852 277h0M853 276h0M851 274h0M850 271h0M850 272h0M863 276h0M867 285h0M867 274h0M873 279h0M872 283h0M877 277h0M878 272h0M880 274h0M881 274h0M886 278h0M886 273h0M878 289h0M878 284h0M879 282h0M832 285h0M836 290h0M837 294h0M835 295h0M840 294h0M842 294h0M837 303h0M835 304h0M839 307h0M839 308h0M838 310h0M845 313h0M849 315h0M851 314h0M837 303h0M832 306h0M834 309h0M846 292h0M846 293h0M848 293h0M852 292h0M854 294h0M855 296h0M851 304h0M856 300h0M864 298h0M859 308h0M864 305h0M863 309h0M866 307h0M871 308h0M872 312h0M871 316h0M873 315h0M874 316h0M872 322h0M876 324h0M871 325h0M881 326h0M876 303h0M877 306h0M881 303h0M883 303h0M886 302h0M887 305h0M890 305h0M888 295h0M889 298h0M893 299h0M897 293h0M899 295h0M898 300h0M902 305h0M901 298h0M903 295h0M909 300h0M907 291h0M914 298h0M910 289h0M913 288h0M915 291h0M919 289h0M917 288h0M920 286h0M925 289h0M921 285h0M922 280h0M924 279h0M927 278h0M907 286h0M909 292h0M913 285h0M914 285h0M916 281h0M918 289h0M921 283h0M924 289h0M927 284h0M928 290h0M943 285h0M942 285h0M941 289h0M941 288h0M903 305h0M904 310h0M905 310h0M911 308h0M913 311h0M915 311h0M914 314h0M920 311h0M918 316h0M929 311h0M927 314h0M926 317h0M927 322h0M927 327h0M932 322h0M936 320h0M939 320h0M937 329h0M941 331h0M939 334h0M941 333h0M941 335h0M945 335h0M946 341h0M946 342h0M951 347h0M946 347h0M949 348h0M945 354h0M948 353h0M906 316h0M902 311h0M908 317h0M912 315h0M916 328h0M914 335h0M918 327h0M921 332h0M921 336h0M936 343h0M934 347h0M942 340h0M955 301h0M947 306h0M948 309h0M951 308h0M947 308h0M950 314h0M943 312h0M941 314h0M944 315h0M939 320h0M945 319h0M945 326h0M951 323h0M944 328h0M953 327h0M945 330h0M948 332h0M953 336h0M951 335h0M949 339h0M1827 720h0M1832 722h0M1836 723h0M1836 724h0M1839 724h0M1840 722h0M1841 725h0M1842 726h0M1843 727h0M1843 729h0M1842 730h0M1853 724h0M1857 725h0M1860 727h0M1859 729h0M1839 735h0M1836 744h0M1840 742h0M1841 747h0M1845 744h0M1845 745h0M1842 752h0M1849 749h0M1852 752h0M1851 751h0M1855 749h0M1859 754h0M1857 746h0M1862 750h0M1864 753h0M1865 746h0M1868 749h0M1870 745h0M1872 754h0M1875 755h0M1875 753h0M1883 750h0M1882 750h0M1884 758h0M1884 751h0M1887 758h0M1892 753h0M1892 760h0M1895 750h0M1897 753h0M1827 743h0M1830 742h0M1831 745h0M1864 738h0M1869 737h0M1869 740h0M1822 763h0M1824 760h0M1826 768h0M1823 767h0M1830 771h0M1833 773h0M1835 772h0M1838 768h0M1836 775h0M1840 772h0M1846 772h0M1847 773h0M1846 773h0M1850 769h0M1850 771h0M1855 764h0M1859 774h0M1860 768h0M1861 778h0M1861 775h0M1872 773h0M1835 776h0M1839 779h0M1839 780h0M1842 782h0M1879 770h0M1878 771h0M1875 768h0M1874 768h0M1874 767h0M1888 777h0M1888 768h0M1889 768h0M1893 773h0M1895 772h0M1898 769h0M1900 771h0M1899 764h0M1905 769h0M1906 767h0M1909 766h0M1911 772h0M1913 770h0M1912 762h0M1917 774h0M1920 768h0M1923 764h0M1925 772h0M1927 769h0M1928 772h0M1932 774h0M1934 775h0M1935 766h0M1936 771h0M1939 775h0M1892 783h0M1890 784h0M1894 785h0M1889 789h0M1901 763h0M1906 764h0M1908 767h0M1910 761h0M1911 762h0M1914 768h0M1914 762h0M1918 761h0M1922 766h0M1902 772h0M1905 776h0M1911 778h0M1911 775h0M1913 777h0M1914 775h0M1917 779h0M1920 779h0M1923 772h0M1925 775h0" stroke="#0000ff" stroke-width="6.6" stroke-linecap="square" fill="none"/>
<polygon points="516.5,989.6 524.7,986.3 533.0,982.1 542.9,982.1 556.9,983.0 561.0,982.1 567.6,982.1 574.2,978.8 578.3,971.4 582.4,968.1 587.4,969.0 590.7,973.1 598.9,976.4 603.0,979.7 604.7,986.3 613.7,983.0 622.0,979.7 628.6,978.8 629.4,983.0 638.5,985.4 646.7,989.6 654.9,992.9 656.6,1001.1 648.4,1003.6 636.0,1004.4 628.6,1004.4 619.5,1003.6 605.5,1005.2 597.3,1002.7 597.3,1015.9 592.3,1018.4 589.0,1015.9 581.6,1010.2 578.3,1002.7 571.7,997.8 567.6,1001.1 557.7,1004.4 551.1,1000.3 541.2,998.6 524.7,998.6 516.5,997.8" fill="#ff00ff"/>
<path d="M528 994h0M539 991h0M549 987h0M559 992h0M567 988h0M581 983h0M585 974h0M594 978h0M600 987h0M613 991h0M622 987h0M636 986h0M645 996h0M654 997h0M581 999h0M584 1009h0" stroke="#ff00ff" stroke-opacity="0.5" stroke-width="6.6" stroke-linecap="square" fill="none"/><path d="M518 996h0M522 995h0M522 990h0M526 993h0M528 992h0M528 991h0M531 988h0M532 989h0M536 992h0M535 988h0M539 989h0M543 986h0M543 990h0M544 991h0M545 993h0M550 988h0M552 988h0M554 993h0M557 989h0M557 990h0M561 995h0M562 991h0M564 996h0M569 994h0M566 989h0M573 992h0M576 991h0M576 985h0M578 988h0M580 986h0M582 983h0M583 979h0M587 981h0M586 977h0M586 976h0M584 972h0M583 977h0M586 976h0M586 979h0M589 979h0M592 981h0M594 981h0M597 981h0M597 985h0M599 986h0M602 987h0M603 990h0M605 990h0M607 994h0M609 992h0M613 986h0M614 993h0M615 989h0M618 990h0M621 994h0M624 985h0M625 990h0M630 987h0M630 991h0M632 993h0M636 988h0M637 991h0M638 996h0M639 997h0M642 992h0M647 994h0M646 997h0M651 997h0M651 995h0M653 996h0M580 989h0M585 990h0M578 991h0M578 993h0M586 995h0M578 999h0M579 1001h0M585 1000h0M583 1004h0M586 1006h0M590 1008h0M591 1008h0M590 1013h0M590 1013h0M591 1016h0" stroke="#ff00ff" stroke-width="6.6" stroke-linecap="square" fill="none"/>
<text x="169.7" y="91.2" class="t">60</text>
<text x="168.9" y="329.5" class="t">40</text>
<text x="168.8" y="562.0" class="t">20</text>
<text x="199.6" y="799.5" class="t">0</text>
<text x="153.1" y="1034.0" class="t">-20</text>
<text x="153.1" y="1269.8" class="t">-40</text>
<text x="154.5" y="1508.0" class="t">-60</text>
<text x="268.4" y="1590.5" class="t">-80</text>
<text x="494.2" y="1590.5" class="t">-60</text>
<text x="717.9" y="1590.5" class="t">-40</text>
<text x="943.2" y="1590.5" class="t">-20</text>
<text x="1191.1" y="1590.5" class="t">0</text>
<text x="1397.9" y="1590.5" class="t">20</text>
<text x="1623.7" y="1590.5" class="t">40</text>
<text x="1848.0" y="1590.5" class="t">60</text>
<text x="2073.2" y="1590.5" class="t">80</text>
<text x="487" y="1680.5" class="al" style="letter-spacing:-1.67px">Dimensionality reduction of measurements</text>
<text transform="translate(93,1577.5) rotate(-90)" x="0" y="0" class="al2" style="letter-spacing:-1.13px">Dimensionality reduction of measurements</text>
<rect x="1597.7" y="85.2" width="514.6" height="428" fill="#fff" stroke="#222" stroke-width="3.4"/>
<circle cx="1635.3" cy="122.6" r="13.5" fill="#ff0000" stroke="#2a2a2a" stroke-width="3"/>
<text x="1659.0" y="141.5" class="lg">Normal data</text>
<circle cx="1635.3" cy="186" r="13.5" fill="#ffff00" stroke="#2a2a2a" stroke-width="3"/>
<text x="1659.7" y="199.6" class="lg">Single-phase fault</text>
<circle cx="1635.3" cy="249.5" r="13.5" fill="#00ff00" stroke="#2a2a2a" stroke-width="3"/>
<text x="1664.0" y="268.4" class="lg" style="word-spacing:5px">Two-phase fault</text>
<circle cx="1635.3" cy="321" r="13.5" fill="#00ffff" stroke="#2a2a2a" stroke-width="3"/>
<text x="1661.3" y="337.2" class="lg">Three-phase fault</text>
<circle cx="1635.3" cy="392.5" r="13.5" fill="#0000ff" stroke="#2a2a2a" stroke-width="3"/>
<text x="1665.7" y="404.7" class="lg">Load step change</text>
<circle cx="1635.3" cy="465.4" r="13.5" fill="#ff00ff" stroke="#2a2a2a" stroke-width="3"/>
<text x="1669.8" y="483.0" class="lg">Bad data</text>
</svg>
</body></html>
